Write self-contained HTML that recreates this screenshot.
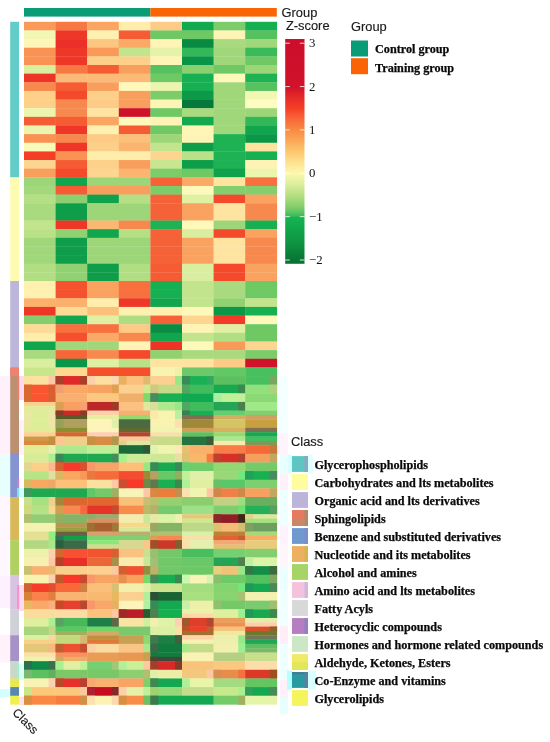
<!DOCTYPE html>
<html><head><meta charset="utf-8"><title>Heatmap</title>
<style>
html,body{margin:0;padding:0;background:#fff;}
body{width:550px;height:742px;overflow:hidden;position:relative;}
svg{position:absolute;left:0;top:0;}
.s{font-family:"Liberation Sans",Arial,sans-serif;font-size:12.85px;fill:#1a1a1a;stroke:#1a1a1a;stroke-width:0.15px;}
.lt{font-family:"Liberation Serif","Times New Roman",serif;font-weight:bold;font-size:12.2px;fill:#0a0a0a;stroke:#0a0a0a;stroke-width:0.25px;}
.tk{font-family:"Liberation Serif","Times New Roman",serif;font-size:12.8px;fill:#111;}
</style></head>
<body>
<svg width="550" height="742" viewBox="0 0 550 742">
<defs>
<filter id="bl" x="-2%" y="-2%" width="104%" height="104%"><feGaussianBlur stdDeviation="0.55"/></filter>
<linearGradient id="zg" gradientUnits="userSpaceOnUse" x1="0" y1="43.2" x2="0" y2="260">
<stop offset="0.0000" stop-color="#CC0E2A"/>
<stop offset="0.2000" stop-color="#D0122A"/>
<stop offset="0.2500" stop-color="#E52A28"/>
<stop offset="0.3000" stop-color="#F53E25"/>
<stop offset="0.3500" stop-color="#F8683A"/>
<stop offset="0.4000" stop-color="#F98A42"/>
<stop offset="0.4500" stop-color="#FBA858"/>
<stop offset="0.5000" stop-color="#FDC670"/>
<stop offset="0.5500" stop-color="#FDE290"/>
<stop offset="0.6000" stop-color="#FBF8AC"/>
<stop offset="0.6500" stop-color="#DCEE9C"/>
<stop offset="0.7000" stop-color="#B6E082"/>
<stop offset="0.7500" stop-color="#88D06C"/>
<stop offset="0.7800" stop-color="#5CC462"/>
<stop offset="0.7960" stop-color="#3CBC5A"/>
<stop offset="0.8040" stop-color="#16B452"/>
<stop offset="0.8600" stop-color="#10A54A"/>
<stop offset="0.9200" stop-color="#0F9443"/>
<stop offset="1.0000" stop-color="#0A7434"/>
</linearGradient>
</defs>
<rect x="0" y="375.8" width="10.2" height="78.8" fill="#FFF0FC"/>
<rect x="0" y="454.6" width="10.2" height="41.3" fill="#E8FFFF"/>
<rect x="0" y="495.9" width="10.2" height="80" fill="#FFF7FF"/>
<rect x="0" y="576" width="10.2" height="32" fill="#FFF0FF"/>
<rect x="0" y="634.6" width="10.2" height="28" fill="#FFF2FB"/>
<rect x="0" y="689" width="10.2" height="8" fill="#D4FFFF"/>
<rect x="19" y="376" width="5" height="24" fill="#FFD8F2"/>
<rect x="19" y="420" width="5" height="35" fill="#FFF0FA"/>
<rect x="19" y="488" width="5" height="9" fill="#D0FFFF"/>
<rect x="19" y="585" width="5" height="26" fill="#FFD8F2"/>
<rect x="19" y="664" width="5" height="16" fill="#D8FFF4"/>
<rect x="19" y="697" width="5" height="8" fill="#FFE0F4"/>
<rect x="278" y="376" width="10" height="57" fill="#F4FFFF"/>
<rect x="278" y="433" width="10" height="22" fill="#FFF4FC"/>
<rect x="280" y="455" width="8" height="20" fill="#E8FFFF"/>
<rect x="280" y="474" width="8" height="16" fill="#FFF0FA"/>
<rect x="280" y="490" width="8" height="36" fill="#EEFFFF"/>
<rect x="280" y="526" width="8" height="18" fill="#FFF2FA"/>
<rect x="280" y="544" width="8" height="24" fill="#FFF6FC"/>
<rect x="280" y="568" width="8" height="22" fill="#EAFFFF"/>
<rect x="280" y="590" width="8" height="36" fill="#F0FFFF"/>
<rect x="280" y="626" width="8" height="18" fill="#FFEEF8"/>
<rect x="280" y="644" width="8" height="36" fill="#EEFFFF"/>
<rect x="280" y="680" width="8" height="18" fill="#FFF0FA"/>
<rect x="280" y="698" width="8" height="16" fill="#E8FFFF"/>
<rect x="24" y="8" width="126.4" height="8.6" fill="#0A9C77"/>
<rect x="150.4" y="8" width="126.4" height="8.6" fill="#FB6405"/>
<text x="281.6" y="17" class="s">Group</text>
<g>
<rect x="24" y="21.8" width="31.9" height="8.94" fill="#F99A58"/>
<rect x="55.6" y="21.8" width="31.9" height="8.94" fill="#F77843"/>
<rect x="87.2" y="21.8" width="31.9" height="8.94" fill="#FAA562"/>
<rect x="118.8" y="21.8" width="31.9" height="8.94" fill="#FEEDAB"/>
<rect x="150.4" y="21.8" width="31.9" height="8.94" fill="#FDCB85"/>
<rect x="182" y="21.8" width="31.9" height="8.94" fill="#13A94F"/>
<rect x="213.6" y="21.8" width="31.9" height="8.94" fill="#7CCC6A"/>
<rect x="245.2" y="21.8" width="31.9" height="8.94" fill="#16B052"/>
<rect x="24" y="30.44" width="31.9" height="8.94" fill="#F2F7B4"/>
<rect x="55.6" y="30.44" width="31.9" height="8.94" fill="#EF3727"/>
<rect x="87.2" y="30.44" width="31.9" height="8.94" fill="#FEF1B0"/>
<rect x="118.8" y="30.44" width="31.9" height="8.94" fill="#F65C34"/>
<rect x="150.4" y="30.44" width="31.9" height="8.94" fill="#6EC864"/>
<rect x="182" y="30.44" width="31.9" height="8.94" fill="#6EC864"/>
<rect x="213.6" y="30.44" width="31.9" height="8.94" fill="#FEF4B6"/>
<rect x="245.2" y="30.44" width="31.9" height="8.94" fill="#55C15F"/>
<rect x="24" y="39.08" width="31.9" height="8.94" fill="#FEF6B8"/>
<rect x="55.6" y="39.08" width="31.9" height="8.94" fill="#EA3028"/>
<rect x="87.2" y="39.08" width="31.9" height="8.94" fill="#FCC580"/>
<rect x="118.8" y="39.08" width="31.9" height="8.94" fill="#FAAA66"/>
<rect x="150.4" y="39.08" width="31.9" height="8.94" fill="#FEF4B6"/>
<rect x="182" y="39.08" width="31.9" height="8.94" fill="#088A42"/>
<rect x="213.6" y="39.08" width="31.9" height="8.94" fill="#A9DA7F"/>
<rect x="245.2" y="39.08" width="31.9" height="8.94" fill="#A0D77A"/>
<rect x="24" y="47.72" width="31.9" height="8.94" fill="#F99253"/>
<rect x="55.6" y="47.72" width="31.9" height="8.94" fill="#EF3727"/>
<rect x="87.2" y="47.72" width="31.9" height="8.94" fill="#F99A58"/>
<rect x="118.8" y="47.72" width="31.9" height="8.94" fill="#C2E48C"/>
<rect x="150.4" y="47.72" width="31.9" height="8.94" fill="#E5F2A8"/>
<rect x="182" y="47.72" width="31.9" height="8.94" fill="#32B858"/>
<rect x="213.6" y="47.72" width="31.9" height="8.94" fill="#A0D77A"/>
<rect x="245.2" y="47.72" width="31.9" height="8.94" fill="#3BBA5A"/>
<rect x="24" y="56.36" width="31.9" height="8.94" fill="#F99253"/>
<rect x="55.6" y="56.36" width="31.9" height="8.94" fill="#EF3727"/>
<rect x="87.2" y="56.36" width="31.9" height="8.94" fill="#FDD08A"/>
<rect x="118.8" y="56.36" width="31.9" height="8.94" fill="#FDD08A"/>
<rect x="150.4" y="56.36" width="31.9" height="8.94" fill="#FEF4B6"/>
<rect x="182" y="56.36" width="31.9" height="8.94" fill="#0A9446"/>
<rect x="213.6" y="56.36" width="31.9" height="8.94" fill="#A0D77A"/>
<rect x="245.2" y="56.36" width="31.9" height="8.94" fill="#6EC864"/>
<rect x="24" y="65" width="31.9" height="8.94" fill="#D9EE9E"/>
<rect x="55.6" y="65" width="31.9" height="8.94" fill="#F77843"/>
<rect x="87.2" y="65" width="31.9" height="8.94" fill="#F65C34"/>
<rect x="118.8" y="65" width="31.9" height="8.94" fill="#F99F5D"/>
<rect x="150.4" y="65" width="31.9" height="8.94" fill="#55C15F"/>
<rect x="182" y="65" width="31.9" height="8.94" fill="#8AD070"/>
<rect x="213.6" y="65" width="31.9" height="8.94" fill="#6EC864"/>
<rect x="245.2" y="65" width="31.9" height="8.94" fill="#9DD679"/>
<rect x="24" y="73.64" width="31.9" height="8.94" fill="#ED3427"/>
<rect x="55.6" y="73.64" width="31.9" height="8.94" fill="#FBBA75"/>
<rect x="87.2" y="73.64" width="31.9" height="8.94" fill="#FBBA75"/>
<rect x="118.8" y="73.64" width="31.9" height="8.94" fill="#FBBA75"/>
<rect x="150.4" y="73.64" width="31.9" height="8.94" fill="#6EC864"/>
<rect x="182" y="73.64" width="31.9" height="8.94" fill="#16B052"/>
<rect x="213.6" y="73.64" width="31.9" height="8.94" fill="#FEF8BB"/>
<rect x="245.2" y="73.64" width="31.9" height="8.94" fill="#1FB254"/>
<rect x="24" y="82.28" width="31.9" height="8.94" fill="#F8894E"/>
<rect x="55.6" y="82.28" width="31.9" height="8.94" fill="#F65C34"/>
<rect x="87.2" y="82.28" width="31.9" height="8.94" fill="#F99F5D"/>
<rect x="118.8" y="82.28" width="31.9" height="8.94" fill="#FEF8BB"/>
<rect x="150.4" y="82.28" width="31.9" height="8.94" fill="#EBF5AE"/>
<rect x="182" y="82.28" width="31.9" height="8.94" fill="#16B052"/>
<rect x="213.6" y="82.28" width="31.9" height="8.94" fill="#A0D77A"/>
<rect x="245.2" y="82.28" width="31.9" height="8.94" fill="#55C15F"/>
<rect x="24" y="90.92" width="31.9" height="8.94" fill="#FDD08A"/>
<rect x="55.6" y="90.92" width="31.9" height="8.94" fill="#F5492B"/>
<rect x="87.2" y="90.92" width="31.9" height="8.94" fill="#FDD08A"/>
<rect x="118.8" y="90.92" width="31.9" height="8.94" fill="#F99F5D"/>
<rect x="150.4" y="90.92" width="31.9" height="8.94" fill="#7CCC6A"/>
<rect x="182" y="90.92" width="31.9" height="8.94" fill="#0C9A48"/>
<rect x="213.6" y="90.92" width="31.9" height="8.94" fill="#A0D77A"/>
<rect x="245.2" y="90.92" width="31.9" height="8.94" fill="#F2F7B4"/>
<rect x="24" y="99.56" width="31.9" height="8.94" fill="#FDD08A"/>
<rect x="55.6" y="99.56" width="31.9" height="8.94" fill="#F8894E"/>
<rect x="87.2" y="99.56" width="31.9" height="8.94" fill="#FDCB85"/>
<rect x="118.8" y="99.56" width="31.9" height="8.94" fill="#F99F5D"/>
<rect x="150.4" y="99.56" width="31.9" height="8.94" fill="#FEF4B6"/>
<rect x="182" y="99.56" width="31.9" height="8.94" fill="#06783C"/>
<rect x="213.6" y="99.56" width="31.9" height="8.94" fill="#A0D77A"/>
<rect x="245.2" y="99.56" width="31.9" height="8.94" fill="#FEFCC0"/>
<rect x="24" y="108.2" width="31.9" height="8.94" fill="#EBF5AE"/>
<rect x="55.6" y="108.2" width="31.9" height="8.94" fill="#F8894E"/>
<rect x="87.2" y="108.2" width="31.9" height="8.94" fill="#FEE4A0"/>
<rect x="118.8" y="108.2" width="31.9" height="8.94" fill="#CF112A"/>
<rect x="150.4" y="108.2" width="31.9" height="8.94" fill="#6EC864"/>
<rect x="182" y="108.2" width="31.9" height="8.94" fill="#A9DA7F"/>
<rect x="213.6" y="108.2" width="31.9" height="8.94" fill="#A0D77A"/>
<rect x="245.2" y="108.2" width="31.9" height="8.94" fill="#9DD679"/>
<rect x="24" y="116.84" width="31.9" height="8.94" fill="#F65C34"/>
<rect x="55.6" y="116.84" width="31.9" height="8.94" fill="#F65C34"/>
<rect x="87.2" y="116.84" width="31.9" height="8.94" fill="#FAA562"/>
<rect x="118.8" y="116.84" width="31.9" height="8.94" fill="#FEF8BB"/>
<rect x="150.4" y="116.84" width="31.9" height="8.94" fill="#FEF3B4"/>
<rect x="182" y="116.84" width="31.9" height="8.94" fill="#13A94F"/>
<rect x="213.6" y="116.84" width="31.9" height="8.94" fill="#A0D77A"/>
<rect x="245.2" y="116.84" width="31.9" height="8.94" fill="#32B858"/>
<rect x="24" y="125.48" width="31.9" height="8.94" fill="#EBF5AE"/>
<rect x="55.6" y="125.48" width="31.9" height="8.94" fill="#EF3727"/>
<rect x="87.2" y="125.48" width="31.9" height="8.94" fill="#FEF1B0"/>
<rect x="118.8" y="125.48" width="31.9" height="8.94" fill="#F65C34"/>
<rect x="150.4" y="125.48" width="31.9" height="8.94" fill="#6EC864"/>
<rect x="182" y="125.48" width="31.9" height="8.94" fill="#FEF4B6"/>
<rect x="213.6" y="125.48" width="31.9" height="8.94" fill="#A0D77A"/>
<rect x="245.2" y="125.48" width="31.9" height="8.94" fill="#11A54D"/>
<rect x="24" y="134.12" width="31.9" height="8.94" fill="#F99253"/>
<rect x="55.6" y="134.12" width="31.9" height="8.94" fill="#F8894E"/>
<rect x="87.2" y="134.12" width="31.9" height="8.94" fill="#FDCB85"/>
<rect x="118.8" y="134.12" width="31.9" height="8.94" fill="#FCC07A"/>
<rect x="150.4" y="134.12" width="31.9" height="8.94" fill="#9DD679"/>
<rect x="182" y="134.12" width="31.9" height="8.94" fill="#FEF4B6"/>
<rect x="213.6" y="134.12" width="31.9" height="8.94" fill="#1FB254"/>
<rect x="245.2" y="134.12" width="31.9" height="8.94" fill="#0B9747"/>
<rect x="24" y="142.76" width="31.9" height="8.94" fill="#F8FABA"/>
<rect x="55.6" y="142.76" width="31.9" height="8.94" fill="#EF3727"/>
<rect x="87.2" y="142.76" width="31.9" height="8.94" fill="#FDD08A"/>
<rect x="118.8" y="142.76" width="31.9" height="8.94" fill="#FBB570"/>
<rect x="150.4" y="142.76" width="31.9" height="8.94" fill="#C2E48C"/>
<rect x="182" y="142.76" width="31.9" height="8.94" fill="#0E9E4A"/>
<rect x="213.6" y="142.76" width="31.9" height="8.94" fill="#1FB254"/>
<rect x="245.2" y="142.76" width="31.9" height="8.94" fill="#FEE4A0"/>
<rect x="24" y="151.4" width="31.9" height="8.94" fill="#F43F26"/>
<rect x="55.6" y="151.4" width="31.9" height="8.94" fill="#F99253"/>
<rect x="87.2" y="151.4" width="31.9" height="8.94" fill="#FEEDAB"/>
<rect x="118.8" y="151.4" width="31.9" height="8.94" fill="#FEEDAB"/>
<rect x="150.4" y="151.4" width="31.9" height="8.94" fill="#FDD590"/>
<rect x="182" y="151.4" width="31.9" height="8.94" fill="#BAE188"/>
<rect x="213.6" y="151.4" width="31.9" height="8.94" fill="#1FB254"/>
<rect x="245.2" y="151.4" width="31.9" height="8.94" fill="#16B052"/>
<rect x="24" y="160.04" width="31.9" height="8.94" fill="#FDD590"/>
<rect x="55.6" y="160.04" width="31.9" height="8.94" fill="#F65C34"/>
<rect x="87.2" y="160.04" width="31.9" height="8.94" fill="#FDD08A"/>
<rect x="118.8" y="160.04" width="31.9" height="8.94" fill="#F99F5D"/>
<rect x="150.4" y="160.04" width="31.9" height="8.94" fill="#C8E690"/>
<rect x="182" y="160.04" width="31.9" height="8.94" fill="#0E9E4A"/>
<rect x="213.6" y="160.04" width="31.9" height="8.94" fill="#1FB254"/>
<rect x="245.2" y="160.04" width="31.9" height="8.94" fill="#FEF3B4"/>
<rect x="24" y="168.68" width="31.9" height="8.94" fill="#F99F5D"/>
<rect x="55.6" y="168.68" width="31.9" height="8.94" fill="#F5492B"/>
<rect x="87.2" y="168.68" width="31.9" height="8.94" fill="#FDD590"/>
<rect x="118.8" y="168.68" width="31.9" height="8.94" fill="#FBB570"/>
<rect x="150.4" y="168.68" width="31.9" height="8.94" fill="#7CCC6A"/>
<rect x="182" y="168.68" width="31.9" height="8.94" fill="#6EC864"/>
<rect x="213.6" y="168.68" width="31.9" height="8.94" fill="#0FA14B"/>
<rect x="245.2" y="168.68" width="31.9" height="8.94" fill="#EBF5AE"/>
<rect x="24" y="177.32" width="31.9" height="8.94" fill="#9DD679"/>
<rect x="55.6" y="177.32" width="31.9" height="8.94" fill="#11A54D"/>
<rect x="87.2" y="177.32" width="31.9" height="8.94" fill="#9DD679"/>
<rect x="118.8" y="177.32" width="31.9" height="8.94" fill="#9DD679"/>
<rect x="150.4" y="177.32" width="31.9" height="8.94" fill="#F66237"/>
<rect x="182" y="177.32" width="31.9" height="8.94" fill="#FAAA66"/>
<rect x="213.6" y="177.32" width="31.9" height="8.94" fill="#FEE4A0"/>
<rect x="245.2" y="177.32" width="31.9" height="8.94" fill="#F7703E"/>
<rect x="24" y="185.96" width="31.9" height="8.94" fill="#A4D87C"/>
<rect x="55.6" y="185.96" width="31.9" height="8.94" fill="#F65C34"/>
<rect x="87.2" y="185.96" width="31.9" height="8.94" fill="#F99F5D"/>
<rect x="118.8" y="185.96" width="31.9" height="8.94" fill="#F99F5D"/>
<rect x="150.4" y="185.96" width="31.9" height="8.94" fill="#7CCC6A"/>
<rect x="182" y="185.96" width="31.9" height="8.94" fill="#FEF8BB"/>
<rect x="213.6" y="185.96" width="31.9" height="8.94" fill="#84CE6E"/>
<rect x="245.2" y="185.96" width="31.9" height="8.94" fill="#84CE6E"/>
<rect x="24" y="194.6" width="31.9" height="8.94" fill="#B5DF85"/>
<rect x="55.6" y="194.6" width="31.9" height="8.94" fill="#8AD070"/>
<rect x="87.2" y="194.6" width="31.9" height="8.94" fill="#0FA14B"/>
<rect x="118.8" y="194.6" width="31.9" height="8.94" fill="#B5DF85"/>
<rect x="150.4" y="194.6" width="31.9" height="8.94" fill="#F66237"/>
<rect x="182" y="194.6" width="31.9" height="8.94" fill="#DFF0A2"/>
<rect x="213.6" y="194.6" width="31.9" height="8.94" fill="#F5492B"/>
<rect x="245.2" y="194.6" width="31.9" height="8.94" fill="#FAA360"/>
<rect x="24" y="203.24" width="31.9" height="8.94" fill="#A9DA7F"/>
<rect x="55.6" y="203.24" width="31.9" height="8.94" fill="#0E9E4A"/>
<rect x="87.2" y="203.24" width="31.9" height="8.94" fill="#9DD679"/>
<rect x="118.8" y="203.24" width="31.9" height="8.94" fill="#9DD679"/>
<rect x="150.4" y="203.24" width="31.9" height="8.94" fill="#F66237"/>
<rect x="182" y="203.24" width="31.9" height="8.94" fill="#FAA360"/>
<rect x="213.6" y="203.24" width="31.9" height="8.94" fill="#FEE4A0"/>
<rect x="245.2" y="203.24" width="31.9" height="8.94" fill="#F8894E"/>
<rect x="24" y="211.88" width="31.9" height="8.94" fill="#A9DA7F"/>
<rect x="55.6" y="211.88" width="31.9" height="8.94" fill="#0E9E4A"/>
<rect x="87.2" y="211.88" width="31.9" height="8.94" fill="#9DD679"/>
<rect x="118.8" y="211.88" width="31.9" height="8.94" fill="#9DD679"/>
<rect x="150.4" y="211.88" width="31.9" height="8.94" fill="#F66237"/>
<rect x="182" y="211.88" width="31.9" height="8.94" fill="#FAA360"/>
<rect x="213.6" y="211.88" width="31.9" height="8.94" fill="#FEE4A0"/>
<rect x="245.2" y="211.88" width="31.9" height="8.94" fill="#F8894E"/>
<rect x="24" y="220.52" width="31.9" height="8.94" fill="#C2E48C"/>
<rect x="55.6" y="220.52" width="31.9" height="8.94" fill="#EF3727"/>
<rect x="87.2" y="220.52" width="31.9" height="8.94" fill="#FBB873"/>
<rect x="118.8" y="220.52" width="31.9" height="8.94" fill="#F8894E"/>
<rect x="150.4" y="220.52" width="31.9" height="8.94" fill="#1FB254"/>
<rect x="182" y="220.52" width="31.9" height="8.94" fill="#FEF8BB"/>
<rect x="213.6" y="220.52" width="31.9" height="8.94" fill="#9DD679"/>
<rect x="245.2" y="220.52" width="31.9" height="8.94" fill="#16B052"/>
<rect x="24" y="229.16" width="31.9" height="8.94" fill="#BAE188"/>
<rect x="55.6" y="229.16" width="31.9" height="8.94" fill="#90D272"/>
<rect x="87.2" y="229.16" width="31.9" height="8.94" fill="#11A54D"/>
<rect x="118.8" y="229.16" width="31.9" height="8.94" fill="#B5DF85"/>
<rect x="150.4" y="229.16" width="31.9" height="8.94" fill="#F66237"/>
<rect x="182" y="229.16" width="31.9" height="8.94" fill="#D9EE9E"/>
<rect x="213.6" y="229.16" width="31.9" height="8.94" fill="#F5492B"/>
<rect x="245.2" y="229.16" width="31.9" height="8.94" fill="#FAA360"/>
<rect x="24" y="237.8" width="31.9" height="8.94" fill="#A0D77A"/>
<rect x="55.6" y="237.8" width="31.9" height="8.94" fill="#0E9E4A"/>
<rect x="87.2" y="237.8" width="31.9" height="8.94" fill="#9DD679"/>
<rect x="118.8" y="237.8" width="31.9" height="8.94" fill="#9DD679"/>
<rect x="150.4" y="237.8" width="31.9" height="8.94" fill="#F66237"/>
<rect x="182" y="237.8" width="31.9" height="8.94" fill="#FAA360"/>
<rect x="213.6" y="237.8" width="31.9" height="8.94" fill="#FEE4A0"/>
<rect x="245.2" y="237.8" width="31.9" height="8.94" fill="#F8894E"/>
<rect x="24" y="246.44" width="31.9" height="8.94" fill="#A0D77A"/>
<rect x="55.6" y="246.44" width="31.9" height="8.94" fill="#0E9E4A"/>
<rect x="87.2" y="246.44" width="31.9" height="8.94" fill="#9DD679"/>
<rect x="118.8" y="246.44" width="31.9" height="8.94" fill="#9DD679"/>
<rect x="150.4" y="246.44" width="31.9" height="8.94" fill="#F66237"/>
<rect x="182" y="246.44" width="31.9" height="8.94" fill="#FAA360"/>
<rect x="213.6" y="246.44" width="31.9" height="8.94" fill="#FEE4A0"/>
<rect x="245.2" y="246.44" width="31.9" height="8.94" fill="#F8894E"/>
<rect x="24" y="255.08" width="31.9" height="8.94" fill="#A0D77A"/>
<rect x="55.6" y="255.08" width="31.9" height="8.94" fill="#0E9E4A"/>
<rect x="87.2" y="255.08" width="31.9" height="8.94" fill="#9DD679"/>
<rect x="118.8" y="255.08" width="31.9" height="8.94" fill="#9DD679"/>
<rect x="150.4" y="255.08" width="31.9" height="8.94" fill="#F66237"/>
<rect x="182" y="255.08" width="31.9" height="8.94" fill="#FAA360"/>
<rect x="213.6" y="255.08" width="31.9" height="8.94" fill="#FEE4A0"/>
<rect x="245.2" y="255.08" width="31.9" height="8.94" fill="#F8894E"/>
<rect x="24" y="263.72" width="31.9" height="8.94" fill="#B1DE83"/>
<rect x="55.6" y="263.72" width="31.9" height="8.94" fill="#90D272"/>
<rect x="87.2" y="263.72" width="31.9" height="8.94" fill="#0E9E4A"/>
<rect x="118.8" y="263.72" width="31.9" height="8.94" fill="#B1DE83"/>
<rect x="150.4" y="263.72" width="31.9" height="8.94" fill="#F65C34"/>
<rect x="182" y="263.72" width="31.9" height="8.94" fill="#D9EE9E"/>
<rect x="213.6" y="263.72" width="31.9" height="8.94" fill="#F5492B"/>
<rect x="245.2" y="263.72" width="31.9" height="8.94" fill="#FAA360"/>
<rect x="24" y="272.36" width="31.9" height="8.94" fill="#B1DE83"/>
<rect x="55.6" y="272.36" width="31.9" height="8.94" fill="#90D272"/>
<rect x="87.2" y="272.36" width="31.9" height="8.94" fill="#0E9E4A"/>
<rect x="118.8" y="272.36" width="31.9" height="8.94" fill="#B1DE83"/>
<rect x="150.4" y="272.36" width="31.9" height="8.94" fill="#F65C34"/>
<rect x="182" y="272.36" width="31.9" height="8.94" fill="#D9EE9E"/>
<rect x="213.6" y="272.36" width="31.9" height="8.94" fill="#F5492B"/>
<rect x="245.2" y="272.36" width="31.9" height="8.94" fill="#FAA360"/>
<rect x="24" y="281" width="31.9" height="8.94" fill="#FEF1B0"/>
<rect x="55.6" y="281" width="31.9" height="8.94" fill="#F55330"/>
<rect x="87.2" y="281" width="31.9" height="8.94" fill="#FAA360"/>
<rect x="118.8" y="281" width="31.9" height="8.94" fill="#F7703E"/>
<rect x="150.4" y="281" width="31.9" height="8.94" fill="#16B052"/>
<rect x="182" y="281" width="31.9" height="8.94" fill="#C2E48C"/>
<rect x="213.6" y="281" width="31.9" height="8.94" fill="#A9DA7F"/>
<rect x="245.2" y="281" width="31.9" height="8.94" fill="#6EC864"/>
<rect x="24" y="289.64" width="31.9" height="8.94" fill="#FEF1B0"/>
<rect x="55.6" y="289.64" width="31.9" height="8.94" fill="#F55330"/>
<rect x="87.2" y="289.64" width="31.9" height="8.94" fill="#FAA360"/>
<rect x="118.8" y="289.64" width="31.9" height="8.94" fill="#F7703E"/>
<rect x="150.4" y="289.64" width="31.9" height="8.94" fill="#16B052"/>
<rect x="182" y="289.64" width="31.9" height="8.94" fill="#C2E48C"/>
<rect x="213.6" y="289.64" width="31.9" height="8.94" fill="#A9DA7F"/>
<rect x="245.2" y="289.64" width="31.9" height="8.94" fill="#6EC864"/>
<rect x="24" y="298.28" width="31.9" height="8.94" fill="#FBB06B"/>
<rect x="55.6" y="298.28" width="31.9" height="8.94" fill="#FBB06B"/>
<rect x="87.2" y="298.28" width="31.9" height="8.94" fill="#FEEDAB"/>
<rect x="118.8" y="298.28" width="31.9" height="8.94" fill="#EF3727"/>
<rect x="150.4" y="298.28" width="31.9" height="8.94" fill="#11A54D"/>
<rect x="182" y="298.28" width="31.9" height="8.94" fill="#C2E48C"/>
<rect x="213.6" y="298.28" width="31.9" height="8.94" fill="#90D272"/>
<rect x="245.2" y="298.28" width="31.9" height="8.94" fill="#C2E48C"/>
<rect x="24" y="306.92" width="31.9" height="8.94" fill="#EF3727"/>
<rect x="55.6" y="306.92" width="31.9" height="8.94" fill="#FDDA95"/>
<rect x="87.2" y="306.92" width="31.9" height="8.94" fill="#FCC07A"/>
<rect x="118.8" y="306.92" width="31.9" height="8.94" fill="#FEF1B0"/>
<rect x="150.4" y="306.92" width="31.9" height="8.94" fill="#FEF1B0"/>
<rect x="182" y="306.92" width="31.9" height="8.94" fill="#FEF8BB"/>
<rect x="213.6" y="306.92" width="31.9" height="8.94" fill="#0B9747"/>
<rect x="245.2" y="306.92" width="31.9" height="8.94" fill="#16B052"/>
<rect x="24" y="315.56" width="31.9" height="8.94" fill="#84CE6E"/>
<rect x="55.6" y="315.56" width="31.9" height="8.94" fill="#11A54D"/>
<rect x="87.2" y="315.56" width="31.9" height="8.94" fill="#DFF0A2"/>
<rect x="118.8" y="315.56" width="31.9" height="8.94" fill="#AEDC81"/>
<rect x="150.4" y="315.56" width="31.9" height="8.94" fill="#F66237"/>
<rect x="182" y="315.56" width="31.9" height="8.94" fill="#FDD590"/>
<rect x="213.6" y="315.56" width="31.9" height="8.94" fill="#F23B26"/>
<rect x="245.2" y="315.56" width="31.9" height="8.94" fill="#FEF8BB"/>
<rect x="24" y="324.2" width="31.9" height="8.94" fill="#FDDA95"/>
<rect x="55.6" y="324.2" width="31.9" height="8.94" fill="#F7703E"/>
<rect x="87.2" y="324.2" width="31.9" height="8.94" fill="#F7703E"/>
<rect x="118.8" y="324.2" width="31.9" height="8.94" fill="#FDCB85"/>
<rect x="150.4" y="324.2" width="31.9" height="8.94" fill="#098D43"/>
<rect x="182" y="324.2" width="31.9" height="8.94" fill="#FEF4B6"/>
<rect x="213.6" y="324.2" width="31.9" height="8.94" fill="#DFF0A2"/>
<rect x="245.2" y="324.2" width="31.9" height="8.94" fill="#6EC864"/>
<rect x="24" y="332.84" width="31.9" height="8.94" fill="#FEEDAB"/>
<rect x="55.6" y="332.84" width="31.9" height="8.94" fill="#F54F2E"/>
<rect x="87.2" y="332.84" width="31.9" height="8.94" fill="#FAAA66"/>
<rect x="118.8" y="332.84" width="31.9" height="8.94" fill="#F8894E"/>
<rect x="150.4" y="332.84" width="31.9" height="8.94" fill="#11A54D"/>
<rect x="182" y="332.84" width="31.9" height="8.94" fill="#C2E48C"/>
<rect x="213.6" y="332.84" width="31.9" height="8.94" fill="#B1DE83"/>
<rect x="245.2" y="332.84" width="31.9" height="8.94" fill="#6EC864"/>
<rect x="24" y="341.48" width="31.9" height="8.94" fill="#11A54D"/>
<rect x="55.6" y="341.48" width="31.9" height="8.94" fill="#A0D77A"/>
<rect x="87.2" y="341.48" width="31.9" height="8.94" fill="#A0D77A"/>
<rect x="118.8" y="341.48" width="31.9" height="8.94" fill="#FEF4B6"/>
<rect x="150.4" y="341.48" width="31.9" height="8.94" fill="#ED3427"/>
<rect x="182" y="341.48" width="31.9" height="8.94" fill="#FEF8BB"/>
<rect x="213.6" y="341.48" width="31.9" height="8.94" fill="#F99A58"/>
<rect x="245.2" y="341.48" width="31.9" height="8.94" fill="#FDD590"/>
<rect x="24" y="350.12" width="31.9" height="8.94" fill="#A9DA7F"/>
<rect x="55.6" y="350.12" width="31.9" height="8.94" fill="#F66639"/>
<rect x="87.2" y="350.12" width="31.9" height="8.94" fill="#F8894E"/>
<rect x="118.8" y="350.12" width="31.9" height="8.94" fill="#F5492B"/>
<rect x="150.4" y="350.12" width="31.9" height="8.94" fill="#90D272"/>
<rect x="182" y="350.12" width="31.9" height="8.94" fill="#A9DA7F"/>
<rect x="213.6" y="350.12" width="31.9" height="8.94" fill="#A9DA7F"/>
<rect x="245.2" y="350.12" width="31.9" height="8.94" fill="#7CCC6A"/>
<rect x="24" y="358.76" width="31.9" height="8.94" fill="#D9EE9E"/>
<rect x="55.6" y="358.76" width="31.9" height="8.94" fill="#0B9747"/>
<rect x="87.2" y="358.76" width="31.9" height="8.94" fill="#DFF0A2"/>
<rect x="118.8" y="358.76" width="31.9" height="8.94" fill="#BAE188"/>
<rect x="150.4" y="358.76" width="31.9" height="8.94" fill="#FEE4A0"/>
<rect x="182" y="358.76" width="31.9" height="8.94" fill="#FEE4A0"/>
<rect x="213.6" y="358.76" width="31.9" height="8.94" fill="#FDCB85"/>
<rect x="245.2" y="358.76" width="31.9" height="8.94" fill="#D0122A"/>
<rect x="24" y="367.4" width="31.9" height="8.94" fill="#C8E68C"/>
<rect x="55.6" y="367.4" width="31.9" height="8.94" fill="#FCD890"/>
<rect x="87.2" y="367.4" width="31.9" height="8.94" fill="#F5502C"/>
<rect x="118.8" y="367.4" width="31.9" height="8.94" fill="#F5502C"/>
<rect x="150.4" y="367.4" width="31.9" height="8.94" fill="#F8F4B0"/>
<rect x="175.05" y="367.4" width="7.25" height="8.94" fill="#F0F0A8"/>
<rect x="182" y="367.4" width="31.9" height="8.94" fill="#6CC868"/>
<rect x="213.6" y="367.4" width="31.9" height="8.94" fill="#62C866"/>
<rect x="245.2" y="367.4" width="31.9" height="8.94" fill="#48C060"/>
<rect x="24" y="376.04" width="31.9" height="8.94" fill="#FCE2A0"/>
<rect x="48.65" y="376.04" width="7.25" height="8.94" fill="#FCC8A8"/>
<rect x="55.6" y="376.04" width="31.9" height="8.94" fill="#E02828"/>
<rect x="55.6" y="376.04" width="7.9" height="8.94" fill="#A8402A"/>
<rect x="80.25" y="376.04" width="7.25" height="8.94" fill="#A84028"/>
<rect x="87.2" y="376.04" width="31.9" height="8.94" fill="#FDE0A0"/>
<rect x="87.2" y="376.04" width="7.9" height="8.94" fill="#FCD0A8"/>
<rect x="111.85" y="376.04" width="7.25" height="8.94" fill="#FCD8B0"/>
<rect x="118.8" y="376.04" width="31.9" height="8.94" fill="#FBC07C"/>
<rect x="118.8" y="376.04" width="7.9" height="8.94" fill="#E8B060"/>
<rect x="143.45" y="376.04" width="7.25" height="8.94" fill="#E0B870"/>
<rect x="150.4" y="376.04" width="31.9" height="8.94" fill="#FCD090"/>
<rect x="175.05" y="376.04" width="7.25" height="8.94" fill="#98E888"/>
<rect x="182" y="376.04" width="31.9" height="8.94" fill="#18B055"/>
<rect x="182" y="376.04" width="7.9" height="8.94" fill="#3A8A58"/>
<rect x="206.65" y="376.04" width="7.25" height="8.94" fill="#30A860"/>
<rect x="213.6" y="376.04" width="31.9" height="8.94" fill="#5CC060"/>
<rect x="245.2" y="376.04" width="31.9" height="8.94" fill="#48C060"/>
<rect x="269.85" y="376.04" width="7.25" height="8.94" fill="#78A860"/>
<rect x="24" y="384.68" width="31.9" height="8.94" fill="#F85530"/>
<rect x="24" y="384.68" width="7.9" height="8.94" fill="#D86830"/>
<rect x="48.65" y="384.68" width="7.25" height="8.94" fill="#D86030"/>
<rect x="55.6" y="384.68" width="31.9" height="8.94" fill="#F9A868"/>
<rect x="55.6" y="384.68" width="7.9" height="8.94" fill="#F0A070"/>
<rect x="87.2" y="384.68" width="31.9" height="8.94" fill="#F8A262"/>
<rect x="111.85" y="384.68" width="7.25" height="8.94" fill="#E0A050"/>
<rect x="118.8" y="384.68" width="31.9" height="8.94" fill="#FCD090"/>
<rect x="143.45" y="384.68" width="7.25" height="8.94" fill="#D0E890"/>
<rect x="150.4" y="384.68" width="31.9" height="8.94" fill="#C4DA86"/>
<rect x="150.4" y="384.68" width="7.9" height="8.94" fill="#D0C880"/>
<rect x="182" y="384.68" width="31.9" height="8.94" fill="#40BC5C"/>
<rect x="182" y="384.68" width="7.9" height="8.94" fill="#50A860"/>
<rect x="213.6" y="384.68" width="31.9" height="8.94" fill="#18A850"/>
<rect x="238.25" y="384.68" width="7.25" height="8.94" fill="#3A8A50"/>
<rect x="245.2" y="384.68" width="31.9" height="8.94" fill="#90E07C"/>
<rect x="269.85" y="384.68" width="7.25" height="8.94" fill="#B0D080"/>
<rect x="24" y="393.32" width="31.9" height="8.94" fill="#F85530"/>
<rect x="24" y="393.32" width="7.9" height="8.94" fill="#D86830"/>
<rect x="48.65" y="393.32" width="7.25" height="8.94" fill="#D86030"/>
<rect x="55.6" y="393.32" width="31.9" height="8.94" fill="#F8B070"/>
<rect x="87.2" y="393.32" width="31.9" height="8.94" fill="#FCC880"/>
<rect x="118.8" y="393.32" width="31.9" height="8.94" fill="#EEB06A"/>
<rect x="143.45" y="393.32" width="7.25" height="8.94" fill="#80D868"/>
<rect x="150.4" y="393.32" width="31.9" height="8.94" fill="#18B055"/>
<rect x="150.4" y="393.32" width="7.9" height="8.94" fill="#4A8A60"/>
<rect x="182" y="393.32" width="31.9" height="8.94" fill="#10A850"/>
<rect x="213.6" y="393.32" width="31.9" height="8.94" fill="#C0F098"/>
<rect x="213.6" y="393.32" width="7.9" height="8.94" fill="#A8F0A0"/>
<rect x="245.2" y="393.32" width="31.9" height="8.94" fill="#8CD874"/>
<rect x="24" y="401.96" width="31.9" height="4.62" fill="#FCD090"/>
<rect x="24" y="406.28" width="31.9" height="4.62" fill="#E0EC98"/>
<rect x="55.6" y="401.96" width="31.9" height="8.94" fill="#F8A060"/>
<rect x="55.6" y="401.96" width="7.9" height="8.94" fill="#D8A050"/>
<rect x="80.25" y="401.96" width="7.25" height="8.94" fill="#F8A070"/>
<rect x="87.2" y="401.96" width="31.9" height="8.94" fill="#BC2828"/>
<rect x="111.85" y="401.96" width="7.25" height="8.94" fill="#A03828"/>
<rect x="118.8" y="401.96" width="31.9" height="8.94" fill="#FCC080"/>
<rect x="143.45" y="401.96" width="7.25" height="8.94" fill="#E0E8A0"/>
<rect x="150.4" y="401.96" width="31.9" height="8.94" fill="#B0E890"/>
<rect x="150.4" y="401.96" width="7.9" height="8.94" fill="#D8E098"/>
<rect x="175.05" y="401.96" width="7.25" height="8.94" fill="#98E888"/>
<rect x="182" y="401.96" width="31.9" height="8.94" fill="#40BC5C"/>
<rect x="182" y="401.96" width="7.9" height="8.94" fill="#50A860"/>
<rect x="213.6" y="401.96" width="31.9" height="8.94" fill="#24A454"/>
<rect x="238.25" y="401.96" width="7.25" height="8.94" fill="#4A8050"/>
<rect x="245.2" y="401.96" width="31.9" height="8.94" fill="#A0E888"/>
<rect x="24" y="410.6" width="31.9" height="8.94" fill="#DCEE98"/>
<rect x="24" y="410.6" width="7.9" height="8.94" fill="#E8E8A0"/>
<rect x="48.65" y="410.6" width="7.25" height="8.94" fill="#F0E4A8"/>
<rect x="55.6" y="410.6" width="31.9" height="4.62" fill="#D02828"/>
<rect x="55.6" y="410.6" width="7.9" height="4.62" fill="#8A3A28"/>
<rect x="80.25" y="410.6" width="7.25" height="4.62" fill="#8A3A28"/>
<rect x="55.6" y="414.92" width="31.9" height="4.62" fill="#5A5A28"/>
<rect x="87.2" y="410.6" width="31.9" height="4.62" fill="#FCD0A8"/>
<rect x="87.2" y="414.92" width="31.9" height="4.62" fill="#E8EEA0"/>
<rect x="118.8" y="410.6" width="31.9" height="4.62" fill="#F8B070"/>
<rect x="118.8" y="414.92" width="31.9" height="4.62" fill="#98D870"/>
<rect x="150.4" y="410.6" width="31.9" height="8.94" fill="#F8F4B0"/>
<rect x="150.4" y="410.6" width="7.9" height="8.94" fill="#FCE8A8"/>
<rect x="175.05" y="410.6" width="7.25" height="8.94" fill="#B8F0A0"/>
<rect x="182" y="410.6" width="31.9" height="4.62" fill="#18B055"/>
<rect x="182" y="410.6" width="7.9" height="4.62" fill="#3A8050"/>
<rect x="182" y="414.92" width="31.9" height="4.62" fill="#807050"/>
<rect x="213.6" y="410.6" width="31.9" height="4.62" fill="#60D070"/>
<rect x="213.6" y="414.92" width="31.9" height="4.62" fill="#D0B060"/>
<rect x="245.2" y="410.6" width="31.9" height="4.62" fill="#80D070"/>
<rect x="245.2" y="414.92" width="31.9" height="4.62" fill="#D0A060"/>
<rect x="24" y="419.24" width="31.9" height="8.94" fill="#DCEE98"/>
<rect x="24" y="419.24" width="7.9" height="8.94" fill="#E8E8A0"/>
<rect x="48.65" y="419.24" width="7.25" height="8.94" fill="#F0E4A8"/>
<rect x="55.6" y="419.24" width="31.9" height="8.94" fill="#B0A060"/>
<rect x="55.6" y="419.24" width="7.9" height="8.94" fill="#98A058"/>
<rect x="87.2" y="419.24" width="31.9" height="8.94" fill="#FCF4B8"/>
<rect x="111.85" y="419.24" width="7.25" height="8.94" fill="#E0F0A8"/>
<rect x="118.8" y="419.24" width="31.9" height="8.94" fill="#4A6A40"/>
<rect x="150.4" y="419.24" width="31.9" height="8.94" fill="#F8F4B0"/>
<rect x="175.05" y="419.24" width="7.25" height="8.94" fill="#FCE0B0"/>
<rect x="182" y="419.24" width="31.9" height="8.94" fill="#A08838"/>
<rect x="182" y="419.24" width="7.9" height="8.94" fill="#9A8A40"/>
<rect x="213.6" y="419.24" width="31.9" height="8.94" fill="#D4C464"/>
<rect x="245.2" y="419.24" width="31.9" height="8.94" fill="#C8A040"/>
<rect x="24" y="427.88" width="31.9" height="4.62" fill="#E0EC98"/>
<rect x="24" y="432.2" width="31.9" height="4.62" fill="#FCD090"/>
<rect x="55.6" y="427.88" width="31.9" height="4.62" fill="#889030"/>
<rect x="55.6" y="432.2" width="31.9" height="4.62" fill="#D06830"/>
<rect x="87.2" y="427.88" width="31.9" height="4.62" fill="#FCF4B8"/>
<rect x="87.2" y="432.2" width="31.9" height="4.62" fill="#FCD0B0"/>
<rect x="118.8" y="427.88" width="31.9" height="4.62" fill="#606A30"/>
<rect x="118.8" y="432.2" width="31.9" height="4.62" fill="#B04830"/>
<rect x="150.4" y="427.88" width="31.9" height="4.62" fill="#F0F4B0"/>
<rect x="150.4" y="432.2" width="31.9" height="4.62" fill="#F8E0A8"/>
<rect x="182" y="427.88" width="31.9" height="4.62" fill="#D0A058"/>
<rect x="182" y="432.2" width="31.9" height="4.62" fill="#60C060"/>
<rect x="213.6" y="427.88" width="31.9" height="4.62" fill="#D8B060"/>
<rect x="213.6" y="432.2" width="31.9" height="4.62" fill="#98D870"/>
<rect x="245.2" y="427.88" width="31.9" height="4.62" fill="#807050"/>
<rect x="245.2" y="432.2" width="31.9" height="4.62" fill="#18A850"/>
<rect x="24" y="436.52" width="31.9" height="4.62" fill="#D09848"/>
<rect x="48.65" y="436.52" width="7.25" height="4.62" fill="#C09040"/>
<rect x="24" y="440.84" width="31.9" height="4.62" fill="#D88838"/>
<rect x="48.65" y="440.84" width="7.25" height="4.62" fill="#C09040"/>
<rect x="55.6" y="436.52" width="31.9" height="8.94" fill="#F0D088"/>
<rect x="55.6" y="436.52" width="7.9" height="8.94" fill="#FCC890"/>
<rect x="87.2" y="436.52" width="31.9" height="8.94" fill="#D88C44"/>
<rect x="87.2" y="436.52" width="7.9" height="8.94" fill="#C89040"/>
<rect x="111.85" y="436.52" width="7.25" height="8.94" fill="#B09848"/>
<rect x="118.8" y="436.52" width="31.9" height="4.62" fill="#FCC898"/>
<rect x="118.8" y="440.84" width="31.9" height="4.62" fill="#DCE8A0"/>
<rect x="118.8" y="440.84" width="7.9" height="4.62" fill="#E0D090"/>
<rect x="150.4" y="436.52" width="31.9" height="8.94" fill="#C8DC88"/>
<rect x="150.4" y="436.52" width="7.9" height="8.94" fill="#D0D890"/>
<rect x="182" y="436.52" width="31.9" height="8.94" fill="#247440"/>
<rect x="206.65" y="436.52" width="7.25" height="8.94" fill="#3A5A38"/>
<rect x="213.6" y="436.52" width="31.9" height="4.62" fill="#A8E890"/>
<rect x="213.6" y="440.84" width="31.9" height="4.62" fill="#FCEAAA"/>
<rect x="245.2" y="436.52" width="31.9" height="4.62" fill="#40C060"/>
<rect x="245.2" y="440.84" width="31.9" height="4.62" fill="#7C9A58"/>
<rect x="24" y="445.16" width="31.9" height="8.94" fill="#E0EC98"/>
<rect x="48.65" y="445.16" width="7.25" height="8.94" fill="#E8F0B0"/>
<rect x="55.6" y="445.16" width="31.9" height="8.94" fill="#B0E890"/>
<rect x="87.2" y="445.16" width="31.9" height="8.94" fill="#C0EE98"/>
<rect x="118.8" y="445.16" width="31.9" height="8.94" fill="#1A6A3A"/>
<rect x="143.45" y="445.16" width="7.25" height="8.94" fill="#2A5A3A"/>
<rect x="150.4" y="445.16" width="31.9" height="8.94" fill="#F0F4B0"/>
<rect x="150.4" y="445.16" width="7.9" height="8.94" fill="#E0F4B0"/>
<rect x="175.05" y="445.16" width="7.25" height="8.94" fill="#FCE8B8"/>
<rect x="182" y="445.16" width="31.9" height="8.94" fill="#F8B26C"/>
<rect x="182" y="445.16" width="7.9" height="8.94" fill="#E8C070"/>
<rect x="213.6" y="445.16" width="31.9" height="8.94" fill="#F87C48"/>
<rect x="245.2" y="445.16" width="31.9" height="8.94" fill="#F56838"/>
<rect x="269.85" y="445.16" width="7.25" height="8.94" fill="#C87838"/>
<rect x="24" y="453.8" width="31.9" height="8.94" fill="#D8EC98"/>
<rect x="48.65" y="453.8" width="7.25" height="8.94" fill="#A8F090"/>
<rect x="55.6" y="453.8" width="31.9" height="8.94" fill="#20A850"/>
<rect x="55.6" y="453.8" width="7.9" height="8.94" fill="#3A8858"/>
<rect x="87.2" y="453.8" width="31.9" height="8.94" fill="#20A850"/>
<rect x="111.85" y="453.8" width="7.25" height="8.94" fill="#40905A"/>
<rect x="118.8" y="453.8" width="31.9" height="8.94" fill="#CCEC98"/>
<rect x="118.8" y="453.8" width="7.9" height="8.94" fill="#A8F090"/>
<rect x="150.4" y="453.8" width="31.9" height="8.94" fill="#CCE894"/>
<rect x="175.05" y="453.8" width="7.25" height="8.94" fill="#E8E0A0"/>
<rect x="182" y="453.8" width="31.9" height="8.94" fill="#F8B868"/>
<rect x="182" y="453.8" width="7.9" height="8.94" fill="#E0C070"/>
<rect x="206.65" y="453.8" width="7.25" height="8.94" fill="#F87840"/>
<rect x="213.6" y="453.8" width="31.9" height="8.94" fill="#D83028"/>
<rect x="213.6" y="453.8" width="7.9" height="8.94" fill="#C04030"/>
<rect x="238.25" y="453.8" width="7.25" height="8.94" fill="#B04030"/>
<rect x="245.2" y="453.8" width="31.9" height="8.94" fill="#F4A05C"/>
<rect x="269.85" y="453.8" width="7.25" height="8.94" fill="#C0A860"/>
<rect x="24" y="462.44" width="31.9" height="8.94" fill="#FCD088"/>
<rect x="24" y="462.44" width="7.9" height="8.94" fill="#E0D890"/>
<rect x="48.65" y="462.44" width="7.25" height="8.94" fill="#FCB890"/>
<rect x="55.6" y="462.44" width="31.9" height="8.94" fill="#F83828"/>
<rect x="55.6" y="462.44" width="7.9" height="8.94" fill="#D86030"/>
<rect x="80.25" y="462.44" width="7.25" height="8.94" fill="#D85030"/>
<rect x="87.2" y="462.44" width="31.9" height="8.94" fill="#F8A468"/>
<rect x="87.2" y="462.44" width="7.9" height="8.94" fill="#F89868"/>
<rect x="118.8" y="462.44" width="31.9" height="8.94" fill="#FCC078"/>
<rect x="143.45" y="462.44" width="7.25" height="8.94" fill="#98E880"/>
<rect x="150.4" y="462.44" width="31.9" height="8.94" fill="#18A850"/>
<rect x="150.4" y="462.44" width="7.9" height="8.94" fill="#3A8A58"/>
<rect x="175.05" y="462.44" width="7.25" height="8.94" fill="#3A8A58"/>
<rect x="182" y="462.44" width="31.9" height="8.94" fill="#70CC68"/>
<rect x="182" y="462.44" width="7.9" height="8.94" fill="#68D070"/>
<rect x="213.6" y="462.44" width="31.9" height="8.94" fill="#94D874"/>
<rect x="245.2" y="462.44" width="31.9" height="8.94" fill="#74CA68"/>
<rect x="24" y="471.08" width="31.9" height="8.94" fill="#B8E488"/>
<rect x="48.65" y="471.08" width="7.25" height="8.94" fill="#E0E0A0"/>
<rect x="55.6" y="471.08" width="31.9" height="8.94" fill="#F8A860"/>
<rect x="55.6" y="471.08" width="7.9" height="8.94" fill="#D8B860"/>
<rect x="80.25" y="471.08" width="7.25" height="8.94" fill="#F89858"/>
<rect x="87.2" y="471.08" width="31.9" height="8.94" fill="#F56C3A"/>
<rect x="87.2" y="471.08" width="7.9" height="8.94" fill="#E87840"/>
<rect x="118.8" y="471.08" width="31.9" height="8.94" fill="#F34C30"/>
<rect x="143.45" y="471.08" width="7.25" height="8.94" fill="#A08838"/>
<rect x="150.4" y="471.08" width="31.9" height="8.94" fill="#68C868"/>
<rect x="150.4" y="471.08" width="7.9" height="8.94" fill="#B8A060"/>
<rect x="175.05" y="471.08" width="7.25" height="8.94" fill="#90B060"/>
<rect x="182" y="471.08" width="31.9" height="8.94" fill="#E0F0A8"/>
<rect x="182" y="471.08" width="7.9" height="8.94" fill="#C0F098"/>
<rect x="213.6" y="471.08" width="31.9" height="8.94" fill="#98D878"/>
<rect x="238.25" y="471.08" width="7.25" height="8.94" fill="#70E880"/>
<rect x="245.2" y="471.08" width="31.9" height="8.94" fill="#18B050"/>
<rect x="245.2" y="471.08" width="7.9" height="8.94" fill="#20A058"/>
<rect x="269.85" y="471.08" width="7.25" height="8.94" fill="#4A8A60"/>
<rect x="24" y="479.72" width="31.9" height="8.94" fill="#F8A860"/>
<rect x="24" y="479.72" width="7.9" height="8.94" fill="#D8B860"/>
<rect x="48.65" y="479.72" width="7.25" height="8.94" fill="#F0A868"/>
<rect x="55.6" y="479.72" width="31.9" height="8.94" fill="#FCC078"/>
<rect x="87.2" y="479.72" width="31.9" height="8.94" fill="#FCE0A0"/>
<rect x="111.85" y="479.72" width="7.25" height="8.94" fill="#FCC8A8"/>
<rect x="118.8" y="479.72" width="31.9" height="8.94" fill="#F83828"/>
<rect x="118.8" y="479.72" width="7.9" height="8.94" fill="#C85030"/>
<rect x="143.45" y="479.72" width="7.25" height="8.94" fill="#708848"/>
<rect x="150.4" y="479.72" width="31.9" height="8.94" fill="#18B050"/>
<rect x="150.4" y="479.72" width="7.9" height="8.94" fill="#607850"/>
<rect x="175.05" y="479.72" width="7.25" height="8.94" fill="#3A8A50"/>
<rect x="182" y="479.72" width="31.9" height="8.94" fill="#E0F0A0"/>
<rect x="182" y="479.72" width="7.9" height="8.94" fill="#B0F098"/>
<rect x="213.6" y="479.72" width="31.9" height="8.94" fill="#58C868"/>
<rect x="213.6" y="479.72" width="7.9" height="8.94" fill="#68C068"/>
<rect x="245.2" y="479.72" width="31.9" height="8.94" fill="#7CD070"/>
<rect x="24" y="488.36" width="31.9" height="8.94" fill="#20A850"/>
<rect x="24" y="488.36" width="7.9" height="8.94" fill="#409860"/>
<rect x="55.6" y="488.36" width="31.9" height="8.94" fill="#20A850"/>
<rect x="87.2" y="488.36" width="31.9" height="8.94" fill="#74CA68"/>
<rect x="87.2" y="488.36" width="7.9" height="8.94" fill="#60C868"/>
<rect x="111.85" y="488.36" width="7.25" height="8.94" fill="#A0B060"/>
<rect x="118.8" y="488.36" width="31.9" height="8.94" fill="#F8F4B8"/>
<rect x="143.45" y="488.36" width="7.25" height="8.94" fill="#FCC8A8"/>
<rect x="150.4" y="488.36" width="31.9" height="8.94" fill="#EC7C3C"/>
<rect x="150.4" y="488.36" width="7.9" height="8.94" fill="#D88840"/>
<rect x="175.05" y="488.36" width="7.25" height="8.94" fill="#C09050"/>
<rect x="182" y="488.36" width="31.9" height="8.94" fill="#F0F4B0"/>
<rect x="182" y="488.36" width="7.9" height="8.94" fill="#FCE0B0"/>
<rect x="206.65" y="488.36" width="7.25" height="8.94" fill="#FCC8A0"/>
<rect x="213.6" y="488.36" width="31.9" height="8.94" fill="#F08048"/>
<rect x="213.6" y="488.36" width="7.9" height="8.94" fill="#D08848"/>
<rect x="238.25" y="488.36" width="7.25" height="8.94" fill="#D08848"/>
<rect x="245.2" y="488.36" width="31.9" height="8.94" fill="#F8A060"/>
<rect x="269.85" y="488.36" width="7.25" height="8.94" fill="#C0A860"/>
<rect x="24" y="497" width="31.9" height="8.94" fill="#A8E080"/>
<rect x="24" y="497" width="7.9" height="8.94" fill="#C8E088"/>
<rect x="48.65" y="497" width="7.25" height="8.94" fill="#F0D090"/>
<rect x="55.6" y="497" width="31.9" height="8.94" fill="#D86830"/>
<rect x="55.6" y="497" width="7.9" height="8.94" fill="#A08838"/>
<rect x="87.2" y="497" width="31.9" height="8.94" fill="#E06830"/>
<rect x="118.8" y="497" width="31.9" height="8.94" fill="#F8C078"/>
<rect x="143.45" y="497" width="7.25" height="8.94" fill="#C8C070"/>
<rect x="150.4" y="497" width="31.9" height="8.94" fill="#98D070"/>
<rect x="150.4" y="497" width="7.9" height="8.94" fill="#B8C070"/>
<rect x="182" y="497" width="31.9" height="8.94" fill="#8CCE6E"/>
<rect x="213.6" y="497" width="31.9" height="8.94" fill="#C4D084"/>
<rect x="238.25" y="497" width="7.25" height="8.94" fill="#98E080"/>
<rect x="245.2" y="497" width="31.9" height="8.94" fill="#68B060"/>
<rect x="24" y="505.64" width="31.9" height="8.94" fill="#B4E284"/>
<rect x="24" y="505.64" width="7.9" height="8.94" fill="#D0D880"/>
<rect x="48.65" y="505.64" width="7.25" height="8.94" fill="#F8D890"/>
<rect x="55.6" y="505.64" width="31.9" height="8.94" fill="#F88850"/>
<rect x="55.6" y="505.64" width="7.9" height="8.94" fill="#D0A050"/>
<rect x="80.25" y="505.64" width="7.25" height="8.94" fill="#F86840"/>
<rect x="87.2" y="505.64" width="31.9" height="8.94" fill="#E83428"/>
<rect x="111.85" y="505.64" width="7.25" height="8.94" fill="#C84830"/>
<rect x="118.8" y="505.64" width="31.9" height="8.94" fill="#F88C4C"/>
<rect x="143.45" y="505.64" width="7.25" height="8.94" fill="#C0B868"/>
<rect x="150.4" y="505.64" width="31.9" height="8.94" fill="#74CA6C"/>
<rect x="150.4" y="505.64" width="7.9" height="8.94" fill="#B8B068"/>
<rect x="182" y="505.64" width="31.9" height="8.94" fill="#9CE088"/>
<rect x="213.6" y="505.64" width="31.9" height="8.94" fill="#7CCE6E"/>
<rect x="238.25" y="505.64" width="7.25" height="8.94" fill="#70E070"/>
<rect x="245.2" y="505.64" width="31.9" height="8.94" fill="#24B058"/>
<rect x="269.85" y="505.64" width="7.25" height="8.94" fill="#58A060"/>
<rect x="24" y="514.28" width="31.9" height="8.94" fill="#94CC74"/>
<rect x="24" y="514.28" width="7.9" height="8.94" fill="#B0C070"/>
<rect x="55.6" y="514.28" width="31.9" height="8.94" fill="#84B464"/>
<rect x="55.6" y="514.28" width="7.9" height="8.94" fill="#90B060"/>
<rect x="87.2" y="514.28" width="31.9" height="4.62" fill="#94B06C"/>
<rect x="87.2" y="514.28" width="7.9" height="4.62" fill="#88B068"/>
<rect x="87.2" y="518.6" width="31.9" height="4.62" fill="#D89060"/>
<rect x="118.8" y="514.28" width="31.9" height="8.94" fill="#F4ECAC"/>
<rect x="143.45" y="514.28" width="7.25" height="8.94" fill="#C8E898"/>
<rect x="150.4" y="514.28" width="31.9" height="8.94" fill="#DCF2A4"/>
<rect x="150.4" y="514.28" width="7.9" height="8.94" fill="#E8E8A8"/>
<rect x="175.05" y="514.28" width="7.25" height="8.94" fill="#F0F0B0"/>
<rect x="182" y="514.28" width="31.9" height="4.62" fill="#E8C878"/>
<rect x="182" y="518.6" width="31.9" height="4.62" fill="#D0E890"/>
<rect x="213.6" y="514.28" width="31.9" height="8.94" fill="#901C24"/>
<rect x="213.6" y="514.28" width="7.9" height="8.94" fill="#8A2828"/>
<rect x="238.25" y="514.28" width="7.25" height="8.94" fill="#3A2818"/>
<rect x="245.2" y="514.28" width="31.9" height="4.62" fill="#DCE89C"/>
<rect x="245.2" y="514.28" width="7.9" height="4.62" fill="#E8D088"/>
<rect x="245.2" y="518.6" width="31.9" height="4.62" fill="#A8E080"/>
<rect x="24" y="522.92" width="31.9" height="8.94" fill="#F4F2B0"/>
<rect x="55.6" y="522.92" width="31.9" height="4.62" fill="#B89850"/>
<rect x="55.6" y="527.24" width="31.9" height="4.62" fill="#98A040"/>
<rect x="87.2" y="522.92" width="31.9" height="8.94" fill="#A85E2E"/>
<rect x="87.2" y="522.92" width="7.9" height="8.94" fill="#A07030"/>
<rect x="111.85" y="522.92" width="7.25" height="8.94" fill="#A07838"/>
<rect x="118.8" y="522.92" width="31.9" height="4.62" fill="#F4D88C"/>
<rect x="118.8" y="527.24" width="31.9" height="4.62" fill="#D8E898"/>
<rect x="150.4" y="522.92" width="31.9" height="8.94" fill="#84B464"/>
<rect x="150.4" y="522.92" width="7.9" height="8.94" fill="#98A860"/>
<rect x="182" y="522.92" width="31.9" height="8.94" fill="#BCD888"/>
<rect x="213.6" y="522.92" width="31.9" height="8.94" fill="#F4BC74"/>
<rect x="213.6" y="522.92" width="7.9" height="8.94" fill="#E0C070"/>
<rect x="238.25" y="522.92" width="7.25" height="8.94" fill="#D0C070"/>
<rect x="245.2" y="522.92" width="31.9" height="8.94" fill="#6CA060"/>
<rect x="245.2" y="522.92" width="7.9" height="8.94" fill="#80A060"/>
<rect x="24" y="531.56" width="31.9" height="8.94" fill="#E4E094"/>
<rect x="48.65" y="531.56" width="7.25" height="8.94" fill="#90F080"/>
<rect x="55.6" y="531.56" width="31.9" height="4.62" fill="#6A6048"/>
<rect x="55.6" y="535.88" width="31.9" height="4.62" fill="#10A048"/>
<rect x="55.6" y="535.88" width="7.9" height="4.62" fill="#2A7850"/>
<rect x="87.2" y="531.56" width="31.9" height="4.62" fill="#D8A070"/>
<rect x="87.2" y="535.88" width="31.9" height="4.62" fill="#7CD46C"/>
<rect x="118.8" y="531.56" width="31.9" height="4.62" fill="#B8B070"/>
<rect x="118.8" y="535.88" width="31.9" height="4.62" fill="#80D070"/>
<rect x="150.4" y="531.56" width="31.9" height="4.62" fill="#B0C070"/>
<rect x="150.4" y="535.88" width="31.9" height="4.62" fill="#F88850"/>
<rect x="150.4" y="535.88" width="7.9" height="4.62" fill="#D8A050"/>
<rect x="182" y="531.56" width="31.9" height="4.62" fill="#D8F0A8"/>
<rect x="182" y="535.88" width="31.9" height="4.62" fill="#F8E0A8"/>
<rect x="213.6" y="531.56" width="31.9" height="4.62" fill="#C08038"/>
<rect x="213.6" y="535.88" width="31.9" height="4.62" fill="#E86030"/>
<rect x="213.6" y="535.88" width="7.9" height="4.62" fill="#D07030"/>
<rect x="238.25" y="535.88" width="7.25" height="4.62" fill="#C06030"/>
<rect x="245.2" y="531.56" width="31.9" height="4.62" fill="#A8D878"/>
<rect x="245.2" y="535.88" width="31.9" height="4.62" fill="#F8AC64"/>
<rect x="24" y="540.2" width="31.9" height="8.94" fill="#B4D880"/>
<rect x="48.65" y="540.2" width="7.25" height="8.94" fill="#A8E888"/>
<rect x="55.6" y="540.2" width="31.9" height="8.94" fill="#3A6A48"/>
<rect x="55.6" y="540.2" width="7.9" height="8.94" fill="#2A6040"/>
<rect x="87.2" y="540.2" width="31.9" height="4.62" fill="#88E878"/>
<rect x="87.2" y="544.52" width="31.9" height="4.62" fill="#D8D890"/>
<rect x="118.8" y="540.2" width="31.9" height="8.94" fill="#D8D890"/>
<rect x="143.45" y="540.2" width="7.25" height="8.94" fill="#F8C888"/>
<rect x="150.4" y="540.2" width="31.9" height="8.94" fill="#CC3828"/>
<rect x="150.4" y="540.2" width="7.9" height="8.94" fill="#A05028"/>
<rect x="175.05" y="540.2" width="7.25" height="8.94" fill="#806030"/>
<rect x="182" y="540.2" width="31.9" height="8.94" fill="#E4F0AC"/>
<rect x="182" y="540.2" width="7.9" height="8.94" fill="#FCE0A8"/>
<rect x="213.6" y="540.2" width="31.9" height="4.62" fill="#F4A874"/>
<rect x="213.6" y="544.52" width="31.9" height="4.62" fill="#E4C070"/>
<rect x="245.2" y="540.2" width="31.9" height="8.94" fill="#E8CC7C"/>
<rect x="24" y="548.84" width="31.9" height="8.94" fill="#ECF2AC"/>
<rect x="48.65" y="548.84" width="7.25" height="8.94" fill="#FCD0B0"/>
<rect x="55.6" y="548.84" width="31.9" height="8.94" fill="#F85030"/>
<rect x="55.6" y="548.84" width="7.9" height="8.94" fill="#D06830"/>
<rect x="87.2" y="548.84" width="31.9" height="8.94" fill="#F25430"/>
<rect x="111.85" y="548.84" width="7.25" height="8.94" fill="#D86030"/>
<rect x="118.8" y="548.84" width="31.9" height="8.94" fill="#FAC280"/>
<rect x="143.45" y="548.84" width="7.25" height="8.94" fill="#C8E090"/>
<rect x="150.4" y="548.84" width="31.9" height="8.94" fill="#74C868"/>
<rect x="150.4" y="548.84" width="7.9" height="8.94" fill="#98C070"/>
<rect x="182" y="548.84" width="31.9" height="8.94" fill="#48BE5E"/>
<rect x="213.6" y="548.84" width="31.9" height="8.94" fill="#74D070"/>
<rect x="245.2" y="548.84" width="31.9" height="8.94" fill="#84CE70"/>
<rect x="24" y="557.48" width="31.9" height="8.94" fill="#F8F0B0"/>
<rect x="48.65" y="557.48" width="7.25" height="8.94" fill="#FCC8A8"/>
<rect x="55.6" y="557.48" width="31.9" height="8.94" fill="#E83028"/>
<rect x="55.6" y="557.48" width="7.9" height="8.94" fill="#B84028"/>
<rect x="87.2" y="557.48" width="31.9" height="8.94" fill="#EA6838"/>
<rect x="111.85" y="557.48" width="7.25" height="8.94" fill="#A89048"/>
<rect x="118.8" y="557.48" width="31.9" height="8.94" fill="#F8ECAC"/>
<rect x="143.45" y="557.48" width="7.25" height="8.94" fill="#C8E898"/>
<rect x="150.4" y="557.48" width="31.9" height="8.94" fill="#70C868"/>
<rect x="150.4" y="557.48" width="7.9" height="8.94" fill="#A0C078"/>
<rect x="182" y="557.48" width="31.9" height="8.94" fill="#6AC868"/>
<rect x="213.6" y="557.48" width="31.9" height="8.94" fill="#24A454"/>
<rect x="238.25" y="557.48" width="7.25" height="8.94" fill="#508050"/>
<rect x="245.2" y="557.48" width="31.9" height="8.94" fill="#DCF4A8"/>
<rect x="245.2" y="557.48" width="7.9" height="8.94" fill="#C0F0A0"/>
<rect x="24" y="566.12" width="31.9" height="8.94" fill="#F8B070"/>
<rect x="24" y="566.12" width="7.9" height="8.94" fill="#C8C070"/>
<rect x="48.65" y="566.12" width="7.25" height="8.94" fill="#E8B870"/>
<rect x="55.6" y="566.12" width="31.9" height="8.94" fill="#F8D08C"/>
<rect x="87.2" y="566.12" width="31.9" height="8.94" fill="#FCD090"/>
<rect x="111.85" y="566.12" width="7.25" height="8.94" fill="#FCC8A0"/>
<rect x="118.8" y="566.12" width="31.9" height="8.94" fill="#F05030"/>
<rect x="118.8" y="566.12" width="7.9" height="8.94" fill="#D06030"/>
<rect x="143.45" y="566.12" width="7.25" height="8.94" fill="#909040"/>
<rect x="150.4" y="566.12" width="31.9" height="8.94" fill="#70C868"/>
<rect x="150.4" y="566.12" width="7.9" height="8.94" fill="#C0B068"/>
<rect x="182" y="566.12" width="31.9" height="8.94" fill="#6CC864"/>
<rect x="213.6" y="566.12" width="31.9" height="8.94" fill="#F0C478"/>
<rect x="213.6" y="566.12" width="7.9" height="8.94" fill="#E8D080"/>
<rect x="238.25" y="566.12" width="7.25" height="8.94" fill="#98E888"/>
<rect x="245.2" y="566.12" width="31.9" height="8.94" fill="#148E44"/>
<rect x="245.2" y="566.12" width="7.9" height="8.94" fill="#307848"/>
<rect x="269.85" y="566.12" width="7.25" height="8.94" fill="#406A40"/>
<rect x="24" y="574.76" width="31.9" height="8.94" fill="#F8F4B0"/>
<rect x="48.65" y="574.76" width="7.25" height="8.94" fill="#FCD0B0"/>
<rect x="55.6" y="574.76" width="31.9" height="8.94" fill="#F83828"/>
<rect x="55.6" y="574.76" width="7.9" height="8.94" fill="#C05828"/>
<rect x="80.25" y="574.76" width="7.25" height="8.94" fill="#C84830"/>
<rect x="87.2" y="574.76" width="31.9" height="8.94" fill="#F8A464"/>
<rect x="87.2" y="574.76" width="7.9" height="8.94" fill="#F89868"/>
<rect x="118.8" y="574.76" width="31.9" height="8.94" fill="#F8A05C"/>
<rect x="118.8" y="574.76" width="7.9" height="8.94" fill="#E89050"/>
<rect x="143.45" y="574.76" width="7.25" height="8.94" fill="#78D868"/>
<rect x="150.4" y="574.76" width="31.9" height="8.94" fill="#14AE50"/>
<rect x="150.4" y="574.76" width="7.9" height="8.94" fill="#4A8A58"/>
<rect x="175.05" y="574.76" width="7.25" height="8.94" fill="#3A8A50"/>
<rect x="182" y="574.76" width="31.9" height="8.94" fill="#F8F4B8"/>
<rect x="182" y="574.76" width="7.9" height="8.94" fill="#C8F8B0"/>
<rect x="206.65" y="574.76" width="7.25" height="8.94" fill="#D8F4B0"/>
<rect x="213.6" y="574.76" width="31.9" height="8.94" fill="#6CCA68"/>
<rect x="213.6" y="574.76" width="7.9" height="8.94" fill="#88C070"/>
<rect x="245.2" y="574.76" width="31.9" height="8.94" fill="#54C060"/>
<rect x="269.85" y="574.76" width="7.25" height="8.94" fill="#80A860"/>
<rect x="24" y="583.4" width="31.9" height="8.94" fill="#F53E28"/>
<rect x="24" y="583.4" width="7.9" height="8.94" fill="#D06030"/>
<rect x="48.65" y="583.4" width="7.25" height="8.94" fill="#E05030"/>
<rect x="55.6" y="583.4" width="31.9" height="8.94" fill="#F86838"/>
<rect x="80.25" y="583.4" width="7.25" height="8.94" fill="#D08040"/>
<rect x="87.2" y="583.4" width="31.9" height="8.94" fill="#FAC07A"/>
<rect x="111.85" y="583.4" width="7.25" height="8.94" fill="#D8C070"/>
<rect x="118.8" y="583.4" width="31.9" height="8.94" fill="#F4F0AC"/>
<rect x="143.45" y="583.4" width="7.25" height="8.94" fill="#E0F0A8"/>
<rect x="150.4" y="583.4" width="31.9" height="8.94" fill="#CCE490"/>
<rect x="182" y="583.4" width="31.9" height="8.94" fill="#A4DC80"/>
<rect x="213.6" y="583.4" width="31.9" height="8.94" fill="#84D470"/>
<rect x="238.25" y="583.4" width="7.25" height="8.94" fill="#70E878"/>
<rect x="245.2" y="583.4" width="31.9" height="8.94" fill="#14A850"/>
<rect x="245.2" y="583.4" width="7.9" height="8.94" fill="#209858"/>
<rect x="269.85" y="583.4" width="7.25" height="8.94" fill="#4A8A58"/>
<rect x="24" y="592.04" width="31.9" height="8.94" fill="#F8824A"/>
<rect x="24" y="592.04" width="7.9" height="8.94" fill="#D88038"/>
<rect x="48.65" y="592.04" width="7.25" height="8.94" fill="#E08040"/>
<rect x="55.6" y="592.04" width="31.9" height="8.94" fill="#FAB472"/>
<rect x="87.2" y="592.04" width="31.9" height="8.94" fill="#F8B870"/>
<rect x="111.85" y="592.04" width="7.25" height="8.94" fill="#E8B860"/>
<rect x="118.8" y="592.04" width="31.9" height="8.94" fill="#FAD090"/>
<rect x="143.45" y="592.04" width="7.25" height="8.94" fill="#B0F098"/>
<rect x="150.4" y="592.04" width="31.9" height="8.94" fill="#1A6434"/>
<rect x="150.4" y="592.04" width="7.9" height="8.94" fill="#2A5038"/>
<rect x="182" y="592.04" width="31.9" height="8.94" fill="#A8E080"/>
<rect x="213.6" y="592.04" width="31.9" height="8.94" fill="#88D470"/>
<rect x="238.25" y="592.04" width="7.25" height="8.94" fill="#A8C070"/>
<rect x="245.2" y="592.04" width="31.9" height="8.94" fill="#F4F0B0"/>
<rect x="24" y="600.68" width="31.9" height="8.94" fill="#F8A868"/>
<rect x="24" y="600.68" width="7.9" height="8.94" fill="#E8B860"/>
<rect x="48.65" y="600.68" width="7.25" height="8.94" fill="#F8B080"/>
<rect x="55.6" y="600.68" width="31.9" height="8.94" fill="#E84030"/>
<rect x="55.6" y="600.68" width="7.9" height="8.94" fill="#C84828"/>
<rect x="80.25" y="600.68" width="7.25" height="8.94" fill="#B84830"/>
<rect x="87.2" y="600.68" width="31.9" height="8.94" fill="#F8A868"/>
<rect x="87.2" y="600.68" width="7.9" height="8.94" fill="#F89868"/>
<rect x="111.85" y="600.68" width="7.25" height="8.94" fill="#E8B060"/>
<rect x="118.8" y="600.68" width="31.9" height="8.94" fill="#FCF4B8"/>
<rect x="143.45" y="600.68" width="7.25" height="8.94" fill="#B0F0A0"/>
<rect x="150.4" y="600.68" width="31.9" height="8.94" fill="#14A850"/>
<rect x="150.4" y="600.68" width="7.9" height="8.94" fill="#3A8A58"/>
<rect x="182" y="600.68" width="31.9" height="8.94" fill="#ECF0A8"/>
<rect x="182" y="600.68" width="7.9" height="8.94" fill="#C8F0A8"/>
<rect x="213.6" y="600.68" width="31.9" height="8.94" fill="#74C868"/>
<rect x="213.6" y="600.68" width="7.9" height="8.94" fill="#90C070"/>
<rect x="245.2" y="600.68" width="31.9" height="8.94" fill="#7CCA70"/>
<rect x="269.85" y="600.68" width="7.25" height="8.94" fill="#A0C070"/>
<rect x="24" y="609.32" width="31.9" height="8.94" fill="#FCDC9C"/>
<rect x="55.6" y="609.32" width="31.9" height="8.94" fill="#FCDCA4"/>
<rect x="87.2" y="609.32" width="31.9" height="8.94" fill="#FAC27C"/>
<rect x="111.85" y="609.32" width="7.25" height="8.94" fill="#FCC8A0"/>
<rect x="118.8" y="609.32" width="31.9" height="8.94" fill="#BC1E28"/>
<rect x="118.8" y="609.32" width="7.9" height="8.94" fill="#A02828"/>
<rect x="143.45" y="609.32" width="7.25" height="8.94" fill="#2A5A30"/>
<rect x="150.4" y="609.32" width="31.9" height="8.94" fill="#14B050"/>
<rect x="150.4" y="609.32" width="7.9" height="8.94" fill="#508050"/>
<rect x="182" y="609.32" width="31.9" height="4.62" fill="#ECF0A8"/>
<rect x="182" y="613.64" width="31.9" height="4.62" fill="#FCD8A8"/>
<rect x="213.6" y="609.32" width="31.9" height="8.94" fill="#DCF0A0"/>
<rect x="238.25" y="609.32" width="7.25" height="8.94" fill="#98F090"/>
<rect x="245.2" y="609.32" width="31.9" height="8.94" fill="#18A850"/>
<rect x="245.2" y="609.32" width="7.9" height="8.94" fill="#209858"/>
<rect x="269.85" y="609.32" width="7.25" height="8.94" fill="#3A8A50"/>
<rect x="24" y="617.96" width="31.9" height="8.94" fill="#E0EE9E"/>
<rect x="48.65" y="617.96" width="7.25" height="8.94" fill="#A8F090"/>
<rect x="55.6" y="617.96" width="31.9" height="8.94" fill="#48B858"/>
<rect x="55.6" y="617.96" width="7.9" height="8.94" fill="#5AA060"/>
<rect x="87.2" y="617.96" width="31.9" height="8.94" fill="#1E8048"/>
<rect x="111.85" y="617.96" width="7.25" height="8.94" fill="#606848"/>
<rect x="118.8" y="617.96" width="31.9" height="8.94" fill="#FAE4A4"/>
<rect x="143.45" y="617.96" width="7.25" height="8.94" fill="#D0F0A0"/>
<rect x="150.4" y="617.96" width="31.9" height="8.94" fill="#E0F2A8"/>
<rect x="150.4" y="617.96" width="7.9" height="8.94" fill="#F0F0B0"/>
<rect x="175.05" y="617.96" width="7.25" height="8.94" fill="#FCD0B0"/>
<rect x="182" y="617.96" width="31.9" height="8.94" fill="#DC4028"/>
<rect x="182" y="617.96" width="7.9" height="8.94" fill="#A05828"/>
<rect x="206.65" y="617.96" width="7.25" height="8.94" fill="#B04830"/>
<rect x="213.6" y="617.96" width="31.9" height="4.62" fill="#E8A058"/>
<rect x="213.6" y="622.28" width="31.9" height="4.62" fill="#F09050"/>
<rect x="245.2" y="617.96" width="31.9" height="4.62" fill="#E0F0A8"/>
<rect x="245.2" y="622.28" width="31.9" height="4.62" fill="#FCD0A8"/>
<rect x="24" y="626.6" width="31.9" height="8.94" fill="#A8D47C"/>
<rect x="48.65" y="626.6" width="7.25" height="8.94" fill="#C0D888"/>
<rect x="55.6" y="626.6" width="31.9" height="4.62" fill="#58C860"/>
<rect x="55.6" y="630.92" width="31.9" height="4.62" fill="#A0B060"/>
<rect x="87.2" y="626.6" width="31.9" height="4.62" fill="#6CD868"/>
<rect x="87.2" y="630.92" width="31.9" height="4.62" fill="#D8A868"/>
<rect x="118.8" y="626.6" width="31.9" height="8.94" fill="#7CC86C"/>
<rect x="150.4" y="626.6" width="31.9" height="8.94" fill="#DCF0A4"/>
<rect x="175.05" y="626.6" width="7.25" height="8.94" fill="#F8E0A8"/>
<rect x="182" y="626.6" width="31.9" height="4.62" fill="#F03E28"/>
<rect x="182" y="626.6" width="7.9" height="4.62" fill="#C05028"/>
<rect x="206.65" y="626.6" width="7.25" height="4.62" fill="#C06030"/>
<rect x="182" y="630.92" width="31.9" height="4.62" fill="#A07030"/>
<rect x="213.6" y="626.6" width="31.9" height="4.62" fill="#F4C478"/>
<rect x="213.6" y="630.92" width="31.9" height="4.62" fill="#F0E8A0"/>
<rect x="245.2" y="626.6" width="31.9" height="4.62" fill="#DC5028"/>
<rect x="269.85" y="626.6" width="7.25" height="4.62" fill="#906030"/>
<rect x="245.2" y="630.92" width="31.9" height="4.62" fill="#707830"/>
<rect x="24" y="635.24" width="31.9" height="4.62" fill="#DCF0A4"/>
<rect x="48.65" y="635.24" width="7.25" height="4.62" fill="#F8D8A0"/>
<rect x="24" y="639.56" width="31.9" height="4.62" fill="#F8D088"/>
<rect x="55.6" y="635.24" width="31.9" height="8.94" fill="#C4D87C"/>
<rect x="80.25" y="635.24" width="7.25" height="8.94" fill="#D8B870"/>
<rect x="87.2" y="635.24" width="31.9" height="4.62" fill="#C09040"/>
<rect x="87.2" y="639.56" width="31.9" height="4.62" fill="#E07838"/>
<rect x="118.8" y="635.24" width="31.9" height="8.94" fill="#C8A054"/>
<rect x="143.45" y="635.24" width="7.25" height="8.94" fill="#90D870"/>
<rect x="150.4" y="635.24" width="31.9" height="8.94" fill="#1C8044"/>
<rect x="150.4" y="635.24" width="7.9" height="8.94" fill="#407850"/>
<rect x="175.05" y="635.24" width="7.25" height="8.94" fill="#406040"/>
<rect x="182" y="635.24" width="31.9" height="4.62" fill="#FCD4A8"/>
<rect x="182" y="639.56" width="31.9" height="4.62" fill="#F8F0B0"/>
<rect x="213.6" y="635.24" width="31.9" height="8.94" fill="#ECF0AC"/>
<rect x="238.25" y="635.24" width="7.25" height="8.94" fill="#98E888"/>
<rect x="245.2" y="635.24" width="31.9" height="4.62" fill="#707858"/>
<rect x="245.2" y="639.56" width="31.9" height="4.62" fill="#20A858"/>
<rect x="24" y="643.88" width="31.9" height="8.94" fill="#E4C878"/>
<rect x="48.65" y="643.88" width="7.25" height="8.94" fill="#F8B880"/>
<rect x="55.6" y="643.88" width="31.9" height="8.94" fill="#EC5030"/>
<rect x="55.6" y="643.88" width="7.9" height="8.94" fill="#C06030"/>
<rect x="80.25" y="643.88" width="7.25" height="8.94" fill="#C05030"/>
<rect x="87.2" y="643.88" width="31.9" height="8.94" fill="#FCDAA0"/>
<rect x="87.2" y="643.88" width="7.9" height="8.94" fill="#FCD0A0"/>
<rect x="118.8" y="643.88" width="31.9" height="8.94" fill="#FAC484"/>
<rect x="143.45" y="643.88" width="7.25" height="8.94" fill="#A8E888"/>
<rect x="150.4" y="643.88" width="31.9" height="8.94" fill="#107C3E"/>
<rect x="150.4" y="643.88" width="7.9" height="8.94" fill="#3A6A48"/>
<rect x="182" y="643.88" width="31.9" height="8.94" fill="#C4DC88"/>
<rect x="182" y="643.88" width="7.9" height="8.94" fill="#A8E888"/>
<rect x="213.6" y="643.88" width="31.9" height="8.94" fill="#F2F0AC"/>
<rect x="238.25" y="643.88" width="7.25" height="8.94" fill="#98F090"/>
<rect x="245.2" y="643.88" width="31.9" height="4.62" fill="#5CC060"/>
<rect x="245.2" y="648.2" width="31.9" height="4.62" fill="#78B868"/>
<rect x="24" y="652.52" width="31.9" height="4.62" fill="#FCE0A8"/>
<rect x="24" y="656.84" width="31.9" height="4.62" fill="#ECF4AC"/>
<rect x="48.65" y="656.84" width="7.25" height="4.62" fill="#FCE8B8"/>
<rect x="55.6" y="652.52" width="31.9" height="4.62" fill="#F89060"/>
<rect x="55.6" y="656.84" width="31.9" height="4.62" fill="#F0B064"/>
<rect x="55.6" y="656.84" width="7.9" height="4.62" fill="#C8B060"/>
<rect x="80.25" y="656.84" width="7.25" height="4.62" fill="#E8B070"/>
<rect x="87.2" y="652.52" width="31.9" height="8.94" fill="#E89C54"/>
<rect x="118.8" y="652.52" width="31.9" height="8.94" fill="#E89850"/>
<rect x="143.45" y="652.52" width="7.25" height="8.94" fill="#C8A050"/>
<rect x="150.4" y="652.52" width="31.9" height="4.62" fill="#107C3E"/>
<rect x="150.4" y="656.84" width="31.9" height="4.62" fill="#3E4A38"/>
<rect x="150.4" y="656.84" width="7.9" height="4.62" fill="#5A4030"/>
<rect x="182" y="652.52" width="31.9" height="8.94" fill="#F8F2B4"/>
<rect x="213.6" y="652.52" width="31.9" height="8.94" fill="#B4D080"/>
<rect x="245.2" y="652.52" width="31.9" height="8.94" fill="#C8E08C"/>
<rect x="24" y="661.16" width="31.9" height="8.94" fill="#108A48"/>
<rect x="24" y="661.16" width="7.9" height="8.94" fill="#2A7050"/>
<rect x="48.65" y="661.16" width="7.25" height="8.94" fill="#3A7050"/>
<rect x="55.6" y="661.16" width="31.9" height="8.94" fill="#E0F0A0"/>
<rect x="55.6" y="661.16" width="7.9" height="8.94" fill="#A8F090"/>
<rect x="80.25" y="661.16" width="7.25" height="8.94" fill="#C0F098"/>
<rect x="87.2" y="661.16" width="31.9" height="8.94" fill="#74D070"/>
<rect x="111.85" y="661.16" width="7.25" height="8.94" fill="#A0C878"/>
<rect x="118.8" y="661.16" width="31.9" height="8.94" fill="#CCF098"/>
<rect x="118.8" y="661.16" width="7.9" height="8.94" fill="#B0F098"/>
<rect x="143.45" y="661.16" width="7.25" height="8.94" fill="#FCC8A0"/>
<rect x="150.4" y="661.16" width="31.9" height="8.94" fill="#DA2828"/>
<rect x="150.4" y="661.16" width="7.9" height="8.94" fill="#A04028"/>
<rect x="175.05" y="661.16" width="7.25" height="8.94" fill="#8A3828"/>
<rect x="182" y="661.16" width="31.9" height="8.94" fill="#F8C47C"/>
<rect x="213.6" y="661.16" width="31.9" height="8.94" fill="#FAC880"/>
<rect x="245.2" y="661.16" width="31.9" height="8.94" fill="#FCDCA8"/>
<rect x="24" y="669.8" width="31.9" height="8.94" fill="#5CC060"/>
<rect x="24" y="669.8" width="7.9" height="8.94" fill="#78B870"/>
<rect x="48.65" y="669.8" width="7.25" height="8.94" fill="#60B060"/>
<rect x="55.6" y="669.8" width="31.9" height="8.94" fill="#7CC868"/>
<rect x="87.2" y="669.8" width="31.9" height="8.94" fill="#78C868"/>
<rect x="118.8" y="669.8" width="31.9" height="8.94" fill="#8CCE70"/>
<rect x="143.45" y="669.8" width="7.25" height="8.94" fill="#B0C070"/>
<rect x="150.4" y="669.8" width="31.9" height="8.94" fill="#ECEEA8"/>
<rect x="150.4" y="669.8" width="7.9" height="8.94" fill="#E0F0A8"/>
<rect x="182" y="669.8" width="31.9" height="8.94" fill="#F4C87C"/>
<rect x="206.65" y="669.8" width="7.25" height="8.94" fill="#FCC8A0"/>
<rect x="213.6" y="669.8" width="31.9" height="8.94" fill="#E88C4C"/>
<rect x="213.6" y="669.8" width="7.9" height="8.94" fill="#D89050"/>
<rect x="238.25" y="669.8" width="7.25" height="8.94" fill="#F87040"/>
<rect x="245.2" y="669.8" width="31.9" height="8.94" fill="#DC3828"/>
<rect x="269.85" y="669.8" width="7.25" height="8.94" fill="#A05020"/>
<rect x="24" y="678.44" width="31.9" height="8.94" fill="#F8F2B4"/>
<rect x="48.65" y="678.44" width="7.25" height="8.94" fill="#FCD0B0"/>
<rect x="55.6" y="678.44" width="31.9" height="8.94" fill="#E83028"/>
<rect x="55.6" y="678.44" width="7.9" height="8.94" fill="#B84828"/>
<rect x="80.25" y="678.44" width="7.25" height="8.94" fill="#B84030"/>
<rect x="87.2" y="678.44" width="31.9" height="8.94" fill="#FAB070"/>
<rect x="87.2" y="678.44" width="7.9" height="8.94" fill="#F8A870"/>
<rect x="118.8" y="678.44" width="31.9" height="8.94" fill="#F8A464"/>
<rect x="143.45" y="678.44" width="7.25" height="8.94" fill="#80D068"/>
<rect x="150.4" y="678.44" width="31.9" height="8.94" fill="#14A850"/>
<rect x="150.4" y="678.44" width="7.9" height="8.94" fill="#408850"/>
<rect x="182" y="678.44" width="31.9" height="8.94" fill="#E8F4A8"/>
<rect x="182" y="678.44" width="7.9" height="8.94" fill="#B0F098"/>
<rect x="213.6" y="678.44" width="31.9" height="8.94" fill="#A4DA80"/>
<rect x="245.2" y="678.44" width="31.9" height="8.94" fill="#64C662"/>
<rect x="24" y="687.08" width="31.9" height="8.94" fill="#FAC878"/>
<rect x="24" y="687.08" width="7.9" height="8.94" fill="#C8E888"/>
<rect x="55.6" y="687.08" width="31.9" height="8.94" fill="#FAC87C"/>
<rect x="80.25" y="687.08" width="7.25" height="8.94" fill="#FCC8A0"/>
<rect x="87.2" y="687.08" width="31.9" height="8.94" fill="#C80C20"/>
<rect x="87.2" y="687.08" width="7.9" height="8.94" fill="#B02030"/>
<rect x="111.85" y="687.08" width="7.25" height="8.94" fill="#8A2828"/>
<rect x="118.8" y="687.08" width="31.9" height="8.94" fill="#E8F0A8"/>
<rect x="118.8" y="687.08" width="7.9" height="8.94" fill="#FCD0A8"/>
<rect x="143.45" y="687.08" width="7.25" height="8.94" fill="#C0F098"/>
<rect x="150.4" y="687.08" width="31.9" height="8.94" fill="#94D878"/>
<rect x="150.4" y="687.08" width="7.9" height="8.94" fill="#A0D070"/>
<rect x="182" y="687.08" width="31.9" height="8.94" fill="#C4DC8C"/>
<rect x="213.6" y="687.08" width="31.9" height="8.94" fill="#C8E88C"/>
<rect x="238.25" y="687.08" width="7.25" height="8.94" fill="#A8F090"/>
<rect x="245.2" y="687.08" width="31.9" height="8.94" fill="#14A850"/>
<rect x="245.2" y="687.08" width="7.9" height="8.94" fill="#30A058"/>
<rect x="269.85" y="687.08" width="7.25" height="8.94" fill="#4A8A58"/>
<rect x="24" y="695.72" width="31.9" height="8.94" fill="#F88844"/>
<rect x="24" y="695.72" width="7.9" height="8.94" fill="#D89040"/>
<rect x="55.6" y="695.72" width="31.9" height="8.94" fill="#F87C40"/>
<rect x="80.25" y="695.72" width="7.25" height="8.94" fill="#D09048"/>
<rect x="87.2" y="695.72" width="31.9" height="8.94" fill="#FCF2B4"/>
<rect x="87.2" y="695.72" width="7.9" height="8.94" fill="#FCE0B0"/>
<rect x="111.85" y="695.72" width="7.25" height="8.94" fill="#FCD8B0"/>
<rect x="118.8" y="695.72" width="31.9" height="8.94" fill="#F88C48"/>
<rect x="118.8" y="695.72" width="7.9" height="8.94" fill="#D89040"/>
<rect x="143.45" y="695.72" width="7.25" height="8.94" fill="#70C060"/>
<rect x="150.4" y="695.72" width="31.9" height="8.94" fill="#14A850"/>
<rect x="150.4" y="695.72" width="7.9" height="8.94" fill="#407850"/>
<rect x="182" y="695.72" width="31.9" height="8.94" fill="#14A850"/>
<rect x="213.6" y="695.72" width="31.9" height="8.94" fill="#74CC68"/>
<rect x="238.25" y="695.72" width="7.25" height="8.94" fill="#A0B060"/>
<rect x="245.2" y="695.72" width="31.9" height="8.94" fill="#E4F4A8"/>
<rect x="10.2" y="21.8" width="8.8" height="155.82" fill="#62CDC8"/>
<rect x="10.2" y="177.32" width="8.8" height="103.98" fill="#FDFBB0"/>
<rect x="10.2" y="281" width="8.8" height="86.7" fill="#BCB6DA"/>
<rect x="10.2" y="367.4" width="8.8" height="86.7" fill="#BA9070"/>
<rect x="10.2" y="453.8" width="8.8" height="43.5" fill="#8494D0"/>
<rect x="10.2" y="497" width="8.8" height="43.5" fill="#D8B858"/>
<rect x="10.2" y="540.2" width="8.8" height="34.86" fill="#B0D060"/>
<rect x="10.2" y="574.76" width="8.8" height="34.86" fill="#D8C4E0"/>
<rect x="10.2" y="609.32" width="8.8" height="26.22" fill="#D0D0D8"/>
<rect x="10.2" y="635.24" width="8.8" height="26.22" fill="#A890C8"/>
<rect x="10.2" y="661.16" width="8.8" height="17.58" fill="#C8D8C8"/>
<rect x="10.2" y="678.44" width="8.8" height="8.94" fill="#E8E850"/>
<rect x="10.2" y="687.08" width="8.8" height="8.94" fill="#5888B0"/>
<rect x="10.2" y="695.72" width="8.8" height="8.94" fill="#F0F050"/>
<rect x="10.2" y="367.6" width="8.8" height="8.64" fill="#F08070"/>
<rect x="17" y="376" width="2.2" height="24" fill="#E88070"/>
<rect x="17" y="478" width="2.2" height="10" fill="#C080D0"/>
<rect x="17" y="488" width="2.2" height="9" fill="#80E0F0"/>
<rect x="17" y="585" width="2.2" height="24" fill="#FF90D0"/>
<rect x="17" y="662" width="2.2" height="17" fill="#A0F0D0"/>
</g>
<text x="286" y="30.1" class="s">Z-score</text>
<rect x="285.2" y="39" width="19.3" height="224.8" fill="url(#zg)"/>
<rect x="285.2" y="42.7" width="4.6" height="1" fill="#fff" opacity="0.8"/>
<rect x="299.8" y="42.7" width="4.7" height="1" fill="#fff" opacity="0.8"/>
<text x="309" y="47.4" class="tk">3</text>
<rect x="285.2" y="86.06" width="4.6" height="1" fill="#fff" opacity="0.8"/>
<rect x="299.8" y="86.06" width="4.7" height="1" fill="#fff" opacity="0.8"/>
<text x="309" y="90.76" class="tk">2</text>
<rect x="285.2" y="129.42" width="4.6" height="1" fill="#fff" opacity="0.8"/>
<rect x="299.8" y="129.42" width="4.7" height="1" fill="#fff" opacity="0.8"/>
<text x="309" y="134.12" class="tk">1</text>
<rect x="285.2" y="172.78" width="4.6" height="1" fill="#fff" opacity="0.8"/>
<rect x="299.8" y="172.78" width="4.7" height="1" fill="#fff" opacity="0.8"/>
<text x="309" y="177.48" class="tk">0</text>
<rect x="285.2" y="216.14" width="4.6" height="1" fill="#fff" opacity="0.8"/>
<rect x="299.8" y="216.14" width="4.7" height="1" fill="#fff" opacity="0.8"/>
<text x="309" y="220.84" class="tk">−1</text>
<rect x="285.2" y="259.5" width="4.6" height="1" fill="#fff" opacity="0.8"/>
<rect x="299.8" y="259.5" width="4.7" height="1" fill="#fff" opacity="0.8"/>
<text x="309" y="264.2" class="tk">−2</text>
<text x="351" y="30.7" class="s">Group</text>
<rect x="351" y="40.5" width="17" height="16" fill="#0A9C77"/>
<rect x="351" y="58.2" width="17" height="16" fill="#FB6405"/>
<text x="375" y="52.5" class="lt">Control group</text>
<text x="375" y="71.8" class="lt">Training group</text>
<text x="291" y="445.5" class="s">Class</text>
<rect x="288" y="454.6" width="4" height="19" fill="#D8FFFF"/>
<rect x="308" y="454.6" width="5" height="19" fill="#E0FFFF"/>
<rect x="287" y="670.6" width="5" height="19" fill="#B8FFFF"/>
<rect x="308" y="670.6" width="8" height="19" fill="#D8FFFF"/>
<rect x="292" y="456.1" width="16" height="15.8" fill="#5EC6C2"/>
<text x="314.5" y="468.7" class="lt">Glycerophospholipids</text>
<rect x="292" y="474.1" width="16" height="15.8" fill="#FDFC9E"/>
<text x="314.5" y="486.7" class="lt">Carbohydrates and lts metabolites</text>
<rect x="292" y="492.1" width="16" height="15.8" fill="#BDB4DA"/>
<text x="314.5" y="504.7" class="lt">Organic acid and lts derivatives</text>
<rect x="292" y="510.1" width="16" height="15.8" fill="#D48468"/>
<text x="314.5" y="522.7" class="lt">Sphingolipids</text>
<rect x="292" y="528.1" width="16" height="15.8" fill="#7099D0"/>
<text x="314.5" y="540.7" class="lt">Benzene and substituted derivatives</text>
<rect x="292" y="546.1" width="16" height="15.8" fill="#EDB060"/>
<text x="314.5" y="558.7" class="lt">Nucleotide and its metabolites</text>
<rect x="292" y="564.1" width="16" height="15.8" fill="#A6D466"/>
<text x="314.5" y="576.7" class="lt">Alcohol and amines</text>
<rect x="292" y="582.1" width="16" height="15.8" fill="#F3C2DC"/>
<text x="314.5" y="594.7" class="lt">Amino acid and lts metabolites</text>
<rect x="292" y="600.1" width="16" height="15.8" fill="#D8D8D8"/>
<text x="314.5" y="612.7" class="lt">Fatty Acyls</text>
<rect x="292" y="618.1" width="16" height="15.8" fill="#B47EC0"/>
<text x="314.5" y="630.7" class="lt">Heterocyclic compounds</text>
<rect x="292" y="636.1" width="16" height="15.8" fill="#CCE6C8"/>
<text x="314.5" y="648.7" class="lt">Hormones and hormone related compounds</text>
<rect x="292" y="654.1" width="16" height="15.8" fill="#F0EA66"/>
<text x="314.5" y="666.7" class="lt">Aldehyde, Ketones, Esters</text>
<rect x="292" y="672.1" width="16" height="15.8" fill="#2A9AA2"/>
<text x="314.5" y="684.7" class="lt">Co-Enzyme and vitamins</text>
<rect x="292" y="690.1" width="16" height="15.8" fill="#F4F45C"/>
<text x="314.5" y="702.7" class="lt">Glycerolipids</text>
<rect x="304.5" y="456.1" width="3.5" height="15.8" fill="#8CA8C0"/>
<rect x="292" y="510.1" width="12.5" height="9" fill="#E67A60"/>
<rect x="304.5" y="510.1" width="3.5" height="15.8" fill="#B08868"/>
<rect x="292" y="519.1" width="12.5" height="6.8" fill="#C88868"/>
<rect x="304.5" y="528.1" width="3.5" height="15.8" fill="#7C8CC8"/>
<rect x="304.5" y="546.1" width="3.5" height="15.8" fill="#D8B450"/>
<rect x="304.5" y="582.1" width="3.5" height="15.8" fill="#D0B8D8"/>
<rect x="304.5" y="618.1" width="3.5" height="15.8" fill="#9480C0"/>
<rect x="292" y="662.1" width="16" height="7.8" fill="#E0E858"/>
<rect x="292" y="672.1" width="16" height="2" fill="#4A7890"/>
<rect x="304.5" y="672.1" width="3.5" height="15.8" fill="#5880A0"/>
<text class="s" style="font-size:12.2px" transform="translate(18.2,707) rotate(45)" y="9">Class</text>
</svg>
</body></html>
